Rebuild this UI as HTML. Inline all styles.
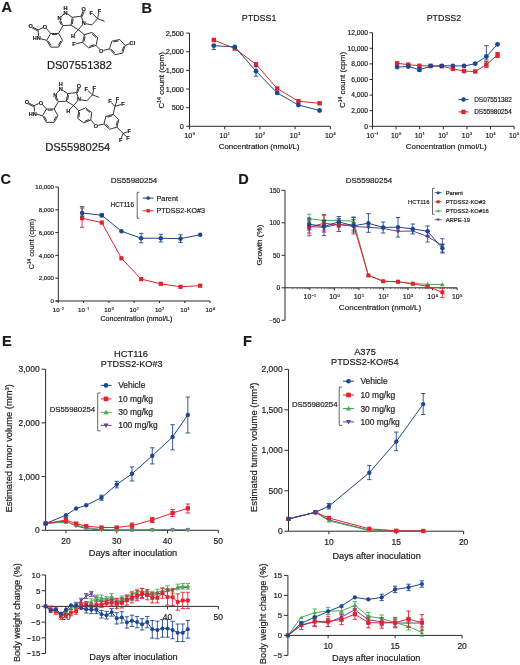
<!DOCTYPE html>
<html><head><meta charset="utf-8"><title>Figure</title>
<style>
html,body{margin:0;padding:0;background:#fff;}
body{width:520px;height:665px;overflow:hidden;}
svg{display:block;}
text{font-family:"Liberation Sans",Arial,sans-serif;fill:#1a1a1a;stroke:#1a1a1a;stroke-width:0.18px;}
</style></head><body>
<svg width="520" height="665" viewBox="0 0 520 665">
<rect width="520" height="665" fill="#fff"/>
<text x="1.5" y="12.4" font-size="14.5" font-weight="bold">A</text>
<text x="141.6" y="12.5" font-size="14.5" font-weight="bold">B</text>
<text x="0.6" y="183.7" font-size="14.5" font-weight="bold">C</text>
<text x="238.2" y="183.8" font-size="14.5" font-weight="bold">D</text>
<text x="2" y="346.4" font-size="14.5" font-weight="bold">E</text>
<text x="242.9" y="346.3" font-size="14.5" font-weight="bold">F</text>
<line x1="46.7" y1="40.3" x2="50.65" y2="33.46" stroke="#2a2a2a" stroke-width="0.95"/>
<line x1="50.65" y1="33.46" x2="58.55" y2="33.46" stroke="#2a2a2a" stroke-width="0.95"/>
<line x1="51.99" y1="34.56" x2="57.21" y2="34.56" stroke="#2a2a2a" stroke-width="0.95"/>
<line x1="58.55" y1="33.46" x2="62.5" y2="40.3" stroke="#2a2a2a" stroke-width="0.95"/>
<line x1="62.5" y1="40.3" x2="58.55" y2="47.14" stroke="#2a2a2a" stroke-width="0.95"/>
<line x1="60.88" y1="40.91" x2="58.27" y2="45.43" stroke="#2a2a2a" stroke-width="0.95"/>
<line x1="58.55" y1="47.14" x2="50.65" y2="47.14" stroke="#2a2a2a" stroke-width="0.95"/>
<line x1="50.65" y1="47.14" x2="46.7" y2="40.3" stroke="#2a2a2a" stroke-width="0.95"/>
<line x1="50.93" y1="45.43" x2="48.32" y2="40.91" stroke="#2a2a2a" stroke-width="0.95"/>
<line x1="38.1" y1="29.9" x2="32.75" y2="27.12" stroke="#2a2a2a" stroke-width="0.95"/>
<line x1="37.59" y1="30.88" x2="32.24" y2="28.09" stroke="#2a2a2a" stroke-width="0.95"/>
<line x1="38.1" y1="29.9" x2="43.02" y2="27.55" stroke="#2a2a2a" stroke-width="0.95"/>
<line x1="46.4" y1="28.3" x2="50.65" y2="33.46" stroke="#2a2a2a" stroke-width="0.95"/>
<line x1="38.1" y1="29.9" x2="38.62" y2="36.01" stroke="#2a2a2a" stroke-width="0.95"/>
<line x1="40.93" y1="38.77" x2="46.7" y2="40.3" stroke="#2a2a2a" stroke-width="0.95"/>
<text x="30.8" y="28.12" font-size="5.6" text-anchor="middle" font-weight="bold" fill="#222">O</text>
<text x="45" y="28.62" font-size="5.6" text-anchor="middle" font-weight="bold" fill="#222">O</text>
<text x="40.8" y="40.22" font-size="5.6" text-anchor="end" font-weight="bold" fill="#222">HN</text>
<line x1="58.55" y1="33.46" x2="62.9" y2="25.6" stroke="#2a2a2a" stroke-width="0.95"/>
<line x1="62.9" y1="25.6" x2="60.51" y2="20.3" stroke="#2a2a2a" stroke-width="0.95"/>
<line x1="61.3" y1="24.74" x2="59.5" y2="20.76" stroke="#2a2a2a" stroke-width="0.95"/>
<line x1="61.16" y1="16.74" x2="63.84" y2="14.06" stroke="#2a2a2a" stroke-width="0.95"/>
<line x1="67.21" y1="13.76" x2="72.3" y2="17.3" stroke="#2a2a2a" stroke-width="0.95"/>
<line x1="72.3" y1="17.3" x2="71" y2="25.2" stroke="#2a2a2a" stroke-width="0.95"/>
<line x1="73.15" y1="18.9" x2="72.32" y2="23.96" stroke="#2a2a2a" stroke-width="0.95"/>
<line x1="71" y1="25.2" x2="62.9" y2="25.6" stroke="#2a2a2a" stroke-width="0.95"/>
<text x="59.6" y="20.32" font-size="5.6" text-anchor="middle" font-weight="bold" fill="#222">N</text>
<text x="65.4" y="14.52" font-size="5.6" text-anchor="middle" font-weight="bold" fill="#222">N</text>
<text x="65.4" y="9.72" font-size="5.6" text-anchor="middle" font-weight="bold" fill="#222">H</text>
<line x1="72.3" y1="17.3" x2="81.2" y2="16.2" stroke="#2a2a2a" stroke-width="0.95"/>
<line x1="81.2" y1="16.2" x2="83.05" y2="11.07" stroke="#2a2a2a" stroke-width="0.95"/>
<line x1="82.23" y1="16.57" x2="84.09" y2="11.44" stroke="#2a2a2a" stroke-width="0.95"/>
<line x1="81.2" y1="16.2" x2="83.04" y2="21.23" stroke="#2a2a2a" stroke-width="0.95"/>
<line x1="82.37" y1="24.97" x2="78.3" y2="29.7" stroke="#2a2a2a" stroke-width="0.95"/>
<line x1="78.3" y1="29.7" x2="71" y2="25.2" stroke="#2a2a2a" stroke-width="0.95"/>
<text x="83.8" y="11.02" font-size="5.6" text-anchor="middle" font-weight="bold" fill="#222">O</text>
<text x="83.8" y="25.32" font-size="5.6" text-anchor="middle" font-weight="bold" fill="#222">N</text>
<line x1="78.3" y1="29.7" x2="74.39" y2="33.98" stroke="#2a2a2a" stroke-width="0.95"/>
<text x="72.9" y="37.62" font-size="5.6" text-anchor="middle" font-weight="bold" fill="#222">H</text>
<line x1="85.96" y1="23.73" x2="91.8" y2="24.9" stroke="#2a2a2a" stroke-width="0.95"/>
<line x1="91.8" y1="24.9" x2="97.6" y2="18.6" stroke="#2a2a2a" stroke-width="0.95"/>
<line x1="97.6" y1="18.6" x2="92.89" y2="14.12" stroke="#2a2a2a" stroke-width="0.95"/>
<line x1="97.6" y1="18.6" x2="98.89" y2="13.14" stroke="#2a2a2a" stroke-width="0.95"/>
<line x1="97.6" y1="18.6" x2="104.6" y2="21.3" stroke="#2a2a2a" stroke-width="0.95"/>
<text x="91.3" y="14.62" font-size="5.6" text-anchor="middle" font-weight="bold" fill="#222">F</text>
<text x="99.4" y="13.02" font-size="5.6" text-anchor="middle" font-weight="bold" fill="#222">F</text>
<line x1="91.88" y1="32.38" x2="97.73" y2="37.7" stroke="#2a2a2a" stroke-width="0.95"/>
<line x1="92.14" y1="34.1" x2="95.99" y2="37.61" stroke="#2a2a2a" stroke-width="0.95"/>
<line x1="97.73" y1="37.7" x2="96.04" y2="45.42" stroke="#2a2a2a" stroke-width="0.95"/>
<line x1="96.04" y1="45.42" x2="88.52" y2="47.82" stroke="#2a2a2a" stroke-width="0.95"/>
<line x1="94.43" y1="44.78" x2="89.46" y2="46.36" stroke="#2a2a2a" stroke-width="0.95"/>
<line x1="88.52" y1="47.82" x2="82.67" y2="42.5" stroke="#2a2a2a" stroke-width="0.95"/>
<line x1="82.67" y1="42.5" x2="84.36" y2="34.78" stroke="#2a2a2a" stroke-width="0.95"/>
<line x1="84.03" y1="41.42" x2="85.15" y2="36.33" stroke="#2a2a2a" stroke-width="0.95"/>
<line x1="84.36" y1="34.78" x2="91.88" y2="32.38" stroke="#2a2a2a" stroke-width="0.95"/>
<line x1="78.3" y1="29.7" x2="84.36" y2="34.78" stroke="#2a2a2a" stroke-width="0.95"/>
<line x1="82.67" y1="42.5" x2="76.18" y2="43.47" stroke="#2a2a2a" stroke-width="0.95"/>
<text x="74" y="45.82" font-size="5.6" text-anchor="middle" font-weight="bold" fill="#222">F</text>
<line x1="96.04" y1="45.42" x2="99.71" y2="49.38" stroke="#2a2a2a" stroke-width="0.95"/>
<text x="101.2" y="53.02" font-size="5.6" text-anchor="middle" font-weight="bold" fill="#222">O</text>
<line x1="109.49" y1="48.83" x2="111.9" y2="41.2" stroke="#2a2a2a" stroke-width="0.95"/>
<line x1="111.9" y1="41.2" x2="119.71" y2="39.47" stroke="#2a2a2a" stroke-width="0.95"/>
<line x1="113.46" y1="41.98" x2="118.62" y2="40.84" stroke="#2a2a2a" stroke-width="0.95"/>
<line x1="119.71" y1="39.47" x2="125.11" y2="45.37" stroke="#2a2a2a" stroke-width="0.95"/>
<line x1="125.11" y1="45.37" x2="122.7" y2="53" stroke="#2a2a2a" stroke-width="0.95"/>
<line x1="123.65" y1="46.33" x2="122.06" y2="51.37" stroke="#2a2a2a" stroke-width="0.95"/>
<line x1="122.7" y1="53" x2="114.89" y2="54.73" stroke="#2a2a2a" stroke-width="0.95"/>
<line x1="114.89" y1="54.73" x2="109.49" y2="48.83" stroke="#2a2a2a" stroke-width="0.95"/>
<line x1="114.79" y1="52.98" x2="111.22" y2="49.09" stroke="#2a2a2a" stroke-width="0.95"/>
<line x1="103.33" y1="50.44" x2="109.49" y2="48.83" stroke="#2a2a2a" stroke-width="0.95"/>
<line x1="125.11" y1="45.37" x2="129.95" y2="43.66" stroke="#2a2a2a" stroke-width="0.95"/>
<text x="132.4" y="44.82" font-size="5.6" text-anchor="middle" font-weight="bold" fill="#222">Cl</text>
<text x="79.4" y="68.6" font-size="11.15" text-anchor="middle">DS07551382</text>
<line x1="42.57" y1="115.69" x2="46.42" y2="109.02" stroke="#2a2a2a" stroke-width="0.95"/>
<line x1="46.42" y1="109.02" x2="54.12" y2="109.02" stroke="#2a2a2a" stroke-width="0.95"/>
<line x1="47.73" y1="110.12" x2="52.81" y2="110.12" stroke="#2a2a2a" stroke-width="0.95"/>
<line x1="54.12" y1="109.02" x2="57.97" y2="115.69" stroke="#2a2a2a" stroke-width="0.95"/>
<line x1="57.97" y1="115.69" x2="54.12" y2="122.36" stroke="#2a2a2a" stroke-width="0.95"/>
<line x1="56.36" y1="116.27" x2="53.82" y2="120.67" stroke="#2a2a2a" stroke-width="0.95"/>
<line x1="54.12" y1="122.36" x2="46.42" y2="122.36" stroke="#2a2a2a" stroke-width="0.95"/>
<line x1="46.42" y1="122.36" x2="42.57" y2="115.69" stroke="#2a2a2a" stroke-width="0.95"/>
<line x1="46.72" y1="120.67" x2="44.17" y2="116.27" stroke="#2a2a2a" stroke-width="0.95"/>
<line x1="34.06" y1="105.7" x2="28.86" y2="103.05" stroke="#2a2a2a" stroke-width="0.95"/>
<line x1="33.57" y1="106.68" x2="28.36" y2="104.03" stroke="#2a2a2a" stroke-width="0.95"/>
<line x1="34.06" y1="105.7" x2="38.85" y2="103.47" stroke="#2a2a2a" stroke-width="0.95"/>
<line x1="42.27" y1="104.2" x2="46.42" y2="109.02" stroke="#2a2a2a" stroke-width="0.95"/>
<line x1="34.06" y1="105.7" x2="34.56" y2="111.48" stroke="#2a2a2a" stroke-width="0.95"/>
<line x1="36.88" y1="114.22" x2="42.57" y2="115.69" stroke="#2a2a2a" stroke-width="0.95"/>
<text x="26.9" y="104.07" font-size="5.6" text-anchor="middle" font-weight="bold" fill="#222">O</text>
<text x="40.84" y="104.55" font-size="5.6" text-anchor="middle" font-weight="bold" fill="#222">O</text>
<text x="36.75" y="115.69" font-size="5.6" text-anchor="end" font-weight="bold" fill="#222">HN</text>
<line x1="54.12" y1="109.02" x2="58.42" y2="101.58" stroke="#2a2a2a" stroke-width="0.95"/>
<line x1="58.42" y1="101.58" x2="56.1" y2="96.56" stroke="#2a2a2a" stroke-width="0.95"/>
<line x1="56.84" y1="100.78" x2="55.1" y2="97.03" stroke="#2a2a2a" stroke-width="0.95"/>
<line x1="56.75" y1="93.03" x2="59.3" y2="90.54" stroke="#2a2a2a" stroke-width="0.95"/>
<line x1="62.69" y1="90.24" x2="67.65" y2="93.61" stroke="#2a2a2a" stroke-width="0.95"/>
<line x1="67.65" y1="93.61" x2="66.37" y2="101.19" stroke="#2a2a2a" stroke-width="0.95"/>
<line x1="68.5" y1="95.16" x2="67.69" y2="100.01" stroke="#2a2a2a" stroke-width="0.95"/>
<line x1="66.37" y1="101.19" x2="58.42" y2="101.58" stroke="#2a2a2a" stroke-width="0.95"/>
<text x="55.18" y="96.58" font-size="5.6" text-anchor="middle" font-weight="bold" fill="#222">N</text>
<text x="60.87" y="91.02" font-size="5.6" text-anchor="middle" font-weight="bold" fill="#222">N</text>
<text x="60.87" y="86.22" font-size="5.6" text-anchor="middle" font-weight="bold" fill="#222">H</text>
<line x1="67.65" y1="93.61" x2="76.39" y2="92.55" stroke="#2a2a2a" stroke-width="0.95"/>
<line x1="76.39" y1="92.55" x2="78.18" y2="87.7" stroke="#2a2a2a" stroke-width="0.95"/>
<line x1="77.42" y1="92.93" x2="79.21" y2="88.08" stroke="#2a2a2a" stroke-width="0.95"/>
<line x1="76.39" y1="92.55" x2="78.17" y2="97.31" stroke="#2a2a2a" stroke-width="0.95"/>
<line x1="77.49" y1="101.02" x2="73.54" y2="105.51" stroke="#2a2a2a" stroke-width="0.95"/>
<line x1="73.54" y1="105.51" x2="66.37" y2="101.19" stroke="#2a2a2a" stroke-width="0.95"/>
<text x="78.94" y="87.66" font-size="5.6" text-anchor="middle" font-weight="bold" fill="#222">O</text>
<text x="78.94" y="101.38" font-size="5.6" text-anchor="middle" font-weight="bold" fill="#222">N</text>
<line x1="73.54" y1="105.51" x2="69.74" y2="109.57" stroke="#2a2a2a" stroke-width="0.95"/>
<text x="68.24" y="113.19" font-size="5.6" text-anchor="middle" font-weight="bold" fill="#222">H</text>
<line x1="81.1" y1="99.79" x2="86.8" y2="100.9" stroke="#2a2a2a" stroke-width="0.95"/>
<line x1="86.8" y1="100.9" x2="92.49" y2="94.86" stroke="#2a2a2a" stroke-width="0.95"/>
<line x1="92.49" y1="94.86" x2="87.92" y2="90.6" stroke="#2a2a2a" stroke-width="0.95"/>
<line x1="92.49" y1="94.86" x2="93.74" y2="89.7" stroke="#2a2a2a" stroke-width="0.95"/>
<line x1="92.49" y1="94.86" x2="99.37" y2="97.45" stroke="#2a2a2a" stroke-width="0.95"/>
<text x="86.31" y="91.11" font-size="5.6" text-anchor="middle" font-weight="bold" fill="#222">F</text>
<text x="94.26" y="89.58" font-size="5.6" text-anchor="middle" font-weight="bold" fill="#222">F</text>
<line x1="85.63" y1="107.86" x2="91.7" y2="112.43" stroke="#2a2a2a" stroke-width="0.95"/>
<line x1="86" y1="109.51" x2="90" y2="112.53" stroke="#2a2a2a" stroke-width="0.95"/>
<line x1="91.7" y1="112.43" x2="90.77" y2="119.97" stroke="#2a2a2a" stroke-width="0.95"/>
<line x1="90.77" y1="119.97" x2="83.77" y2="122.94" stroke="#2a2a2a" stroke-width="0.95"/>
<line x1="89.15" y1="119.47" x2="84.53" y2="121.43" stroke="#2a2a2a" stroke-width="0.95"/>
<line x1="83.77" y1="122.94" x2="77.7" y2="118.37" stroke="#2a2a2a" stroke-width="0.95"/>
<line x1="77.7" y1="118.37" x2="78.63" y2="110.83" stroke="#2a2a2a" stroke-width="0.95"/>
<line x1="78.95" y1="117.22" x2="79.56" y2="112.24" stroke="#2a2a2a" stroke-width="0.95"/>
<line x1="78.63" y1="110.83" x2="85.63" y2="107.86" stroke="#2a2a2a" stroke-width="0.95"/>
<line x1="73.54" y1="105.51" x2="78.63" y2="110.83" stroke="#2a2a2a" stroke-width="0.95"/>
<line x1="90.77" y1="119.97" x2="94.53" y2="124.16" stroke="#2a2a2a" stroke-width="0.95"/>
<text x="96" y="127.82" font-size="5.6" text-anchor="middle" font-weight="bold" fill="#222">O</text>
<line x1="104.02" y1="124" x2="105.81" y2="116.51" stroke="#2a2a2a" stroke-width="0.95"/>
<line x1="105.81" y1="116.51" x2="113.18" y2="114.31" stroke="#2a2a2a" stroke-width="0.95"/>
<line x1="107.37" y1="117.19" x2="112.24" y2="115.74" stroke="#2a2a2a" stroke-width="0.95"/>
<line x1="113.18" y1="114.31" x2="118.78" y2="119.6" stroke="#2a2a2a" stroke-width="0.95"/>
<line x1="118.78" y1="119.6" x2="116.99" y2="127.09" stroke="#2a2a2a" stroke-width="0.95"/>
<line x1="117.41" y1="120.62" x2="116.23" y2="125.56" stroke="#2a2a2a" stroke-width="0.95"/>
<line x1="116.99" y1="127.09" x2="109.62" y2="129.29" stroke="#2a2a2a" stroke-width="0.95"/>
<line x1="109.62" y1="129.29" x2="104.02" y2="124" stroke="#2a2a2a" stroke-width="0.95"/>
<line x1="109.42" y1="127.59" x2="105.73" y2="124.1" stroke="#2a2a2a" stroke-width="0.95"/>
<line x1="98.15" y1="125.32" x2="104.02" y2="124" stroke="#2a2a2a" stroke-width="0.95"/>
<line x1="113.18" y1="114.31" x2="115" y2="106.4" stroke="#2a2a2a" stroke-width="0.95"/>
<line x1="115" y1="106.4" x2="111.27" y2="102.45" stroke="#2a2a2a" stroke-width="0.95"/>
<text x="109.9" y="103.02" font-size="5.6" text-anchor="middle" font-weight="bold" fill="#222">F</text>
<line x1="115" y1="106.4" x2="116.8" y2="100.71" stroke="#2a2a2a" stroke-width="0.95"/>
<text x="117.4" y="100.82" font-size="5.6" text-anchor="middle" font-weight="bold" fill="#222">F</text>
<line x1="115" y1="106.4" x2="121.09" y2="104.5" stroke="#2a2a2a" stroke-width="0.95"/>
<text x="123" y="105.92" font-size="5.6" text-anchor="middle" font-weight="bold" fill="#222">F</text>
<line x1="116.99" y1="127.09" x2="123.1" y2="133.4" stroke="#2a2a2a" stroke-width="0.95"/>
<line x1="123.1" y1="133.4" x2="127.31" y2="131.95" stroke="#2a2a2a" stroke-width="0.95"/>
<text x="129.2" y="133.32" font-size="5.6" text-anchor="middle" font-weight="bold" fill="#222">F</text>
<line x1="123.1" y1="133.4" x2="126.46" y2="136.62" stroke="#2a2a2a" stroke-width="0.95"/>
<text x="127.9" y="140.02" font-size="5.6" text-anchor="middle" font-weight="bold" fill="#222">F</text>
<line x1="123.1" y1="133.4" x2="121.34" y2="137.84" stroke="#2a2a2a" stroke-width="0.95"/>
<text x="120.6" y="141.72" font-size="5.6" text-anchor="middle" font-weight="bold" fill="#222">F</text>
<text x="77.8" y="150.7" font-size="11.15" text-anchor="middle">DS55980254</text>
<line x1="189.5" y1="33.1" x2="189.5" y2="126.3" stroke="#2b2b2b" stroke-width="1"/>
<line x1="186.2" y1="126.3" x2="189.5" y2="126.3" stroke="#2b2b2b" stroke-width="1"/>
<text x="183.9" y="128.85" font-size="7.3" text-anchor="end">0</text>
<line x1="186.2" y1="107.66" x2="189.5" y2="107.66" stroke="#2b2b2b" stroke-width="1"/>
<text x="183.9" y="110.22" font-size="7.3" text-anchor="end">500</text>
<line x1="186.2" y1="89.02" x2="189.5" y2="89.02" stroke="#2b2b2b" stroke-width="1"/>
<text x="183.9" y="91.57" font-size="7.3" text-anchor="end">1,000</text>
<line x1="186.2" y1="70.38" x2="189.5" y2="70.38" stroke="#2b2b2b" stroke-width="1"/>
<text x="183.9" y="72.94" font-size="7.3" text-anchor="end">1,500</text>
<line x1="186.2" y1="51.74" x2="189.5" y2="51.74" stroke="#2b2b2b" stroke-width="1"/>
<text x="183.9" y="54.29" font-size="7.3" text-anchor="end">2,000</text>
<line x1="186.2" y1="33.1" x2="189.5" y2="33.1" stroke="#2b2b2b" stroke-width="1"/>
<text x="183.9" y="35.65" font-size="7.3" text-anchor="end">2,500</text>
<line x1="189.5" y1="126.3" x2="330.3" y2="126.3" stroke="#2b2b2b" stroke-width="1"/>
<line x1="189.5" y1="126.3" x2="189.5" y2="129.3" stroke="#2b2b2b" stroke-width="1"/>
<text x="189.5" y="137.6" font-size="7.1" text-anchor="middle">10<tspan font-size="3.76" dx="0.5" dy="-2.34">0</tspan></text>
<line x1="224.7" y1="126.3" x2="224.7" y2="129.3" stroke="#2b2b2b" stroke-width="1"/>
<text x="224.7" y="137.6" font-size="7.1" text-anchor="middle">10<tspan font-size="3.76" dx="0.5" dy="-2.34">1</tspan></text>
<line x1="259.9" y1="126.3" x2="259.9" y2="129.3" stroke="#2b2b2b" stroke-width="1"/>
<text x="259.9" y="137.6" font-size="7.1" text-anchor="middle">10<tspan font-size="3.76" dx="0.5" dy="-2.34">2</tspan></text>
<line x1="295.1" y1="126.3" x2="295.1" y2="129.3" stroke="#2b2b2b" stroke-width="1"/>
<text x="295.1" y="137.6" font-size="7.1" text-anchor="middle">10<tspan font-size="3.76" dx="0.5" dy="-2.34">3</tspan></text>
<line x1="330.3" y1="126.3" x2="330.3" y2="129.3" stroke="#2b2b2b" stroke-width="1"/>
<text x="330.3" y="137.6" font-size="7.1" text-anchor="middle">10<tspan font-size="3.76" dx="0.5" dy="-2.34">4</tspan></text>
<text x="259.1" y="21.2" font-size="8.9" text-anchor="middle">PTDSS1</text>
<text x="259.1" y="148.9" font-size="7.95" text-anchor="middle">Concentration (nmol/L)</text>
<text x="164.2" y="80.3" font-size="8.1" text-anchor="middle" transform="rotate(-90 164.2 80.3)">C<tspan font-size="5" dy="-3">14</tspan><tspan dy="3">&#160;count (cpm)</tspan></text>
<polyline points="213.8,40 234.8,48.5 256,64.3 277.2,88.5 298.4,101.2 319.6,103.3" fill="none" stroke="#e0232f" stroke-width="1" stroke-linejoin="round"/>
<rect x="211.6" y="37.8" width="4.4" height="4.4" fill="#e0232f"/>
<rect x="232.6" y="46.3" width="4.4" height="4.4" fill="#e0232f"/>
<rect x="253.8" y="62.1" width="4.4" height="4.4" fill="#e0232f"/>
<rect x="275" y="86.3" width="4.4" height="4.4" fill="#e0232f"/>
<rect x="296.2" y="99" width="4.4" height="4.4" fill="#e0232f"/>
<rect x="317.4" y="101.1" width="4.4" height="4.4" fill="#e0232f"/>
<polyline points="213.8,45.7 234.8,46.9 256,71.2 277.2,92.9 298.4,105 319.6,110.5" fill="none" stroke="#1c4790" stroke-width="1" stroke-linejoin="round"/>
<line x1="213.8" y1="44.5" x2="213.8" y2="49.4" stroke="#1c4790" stroke-width="0.9"/>
<line x1="211.6" y1="44.5" x2="216" y2="44.5" stroke="#1c4790" stroke-width="0.9"/>
<line x1="211.6" y1="49.4" x2="216" y2="49.4" stroke="#1c4790" stroke-width="0.9"/>
<line x1="256" y1="66.5" x2="256" y2="76.2" stroke="#1c4790" stroke-width="0.9"/>
<line x1="253.8" y1="66.5" x2="258.2" y2="66.5" stroke="#1c4790" stroke-width="0.9"/>
<line x1="253.8" y1="76.2" x2="258.2" y2="76.2" stroke="#1c4790" stroke-width="0.9"/>
<circle cx="213.8" cy="45.7" r="2.4" fill="#1c4790"/>
<circle cx="234.8" cy="46.9" r="2.4" fill="#1c4790"/>
<circle cx="256" cy="71.2" r="2.4" fill="#1c4790"/>
<circle cx="277.2" cy="92.9" r="2.4" fill="#1c4790"/>
<circle cx="298.4" cy="105" r="2.4" fill="#1c4790"/>
<circle cx="319.6" cy="110.5" r="2.4" fill="#1c4790"/>
<line x1="372.5" y1="32.7" x2="372.5" y2="126.3" stroke="#2b2b2b" stroke-width="1"/>
<line x1="369.5" y1="126.3" x2="372.5" y2="126.3" stroke="#2b2b2b" stroke-width="1"/>
<text x="368" y="128.65" font-size="6.7" text-anchor="end">0</text>
<line x1="369.5" y1="110.7" x2="372.5" y2="110.7" stroke="#2b2b2b" stroke-width="1"/>
<text x="368" y="113.05" font-size="6.7" text-anchor="end">2,000</text>
<line x1="369.5" y1="95.1" x2="372.5" y2="95.1" stroke="#2b2b2b" stroke-width="1"/>
<text x="368" y="97.44" font-size="6.7" text-anchor="end">4,000</text>
<line x1="369.5" y1="79.5" x2="372.5" y2="79.5" stroke="#2b2b2b" stroke-width="1"/>
<text x="368" y="81.84" font-size="6.7" text-anchor="end">6,000</text>
<line x1="369.5" y1="63.9" x2="372.5" y2="63.9" stroke="#2b2b2b" stroke-width="1"/>
<text x="368" y="66.25" font-size="6.7" text-anchor="end">8,000</text>
<line x1="369.5" y1="48.3" x2="372.5" y2="48.3" stroke="#2b2b2b" stroke-width="1"/>
<text x="368" y="50.64" font-size="6.7" text-anchor="end">10,000</text>
<line x1="369.5" y1="32.7" x2="372.5" y2="32.7" stroke="#2b2b2b" stroke-width="1"/>
<text x="368" y="35.05" font-size="6.7" text-anchor="end">12,000</text>
<line x1="372.5" y1="126.3" x2="514.1" y2="126.3" stroke="#2b2b2b" stroke-width="1"/>
<line x1="372.5" y1="126.3" x2="372.5" y2="129.3" stroke="#2b2b2b" stroke-width="1"/>
<text x="372.5" y="137.6" font-size="6.8" text-anchor="middle">10<tspan font-size="3.6" dx="0.5" dy="-2.24">−1</tspan></text>
<line x1="396.1" y1="126.3" x2="396.1" y2="129.3" stroke="#2b2b2b" stroke-width="1"/>
<text x="396.1" y="137.6" font-size="6.8" text-anchor="middle">10<tspan font-size="3.6" dx="0.5" dy="-2.24">0</tspan></text>
<line x1="419.7" y1="126.3" x2="419.7" y2="129.3" stroke="#2b2b2b" stroke-width="1"/>
<text x="419.7" y="137.6" font-size="6.8" text-anchor="middle">10<tspan font-size="3.6" dx="0.5" dy="-2.24">1</tspan></text>
<line x1="443.3" y1="126.3" x2="443.3" y2="129.3" stroke="#2b2b2b" stroke-width="1"/>
<text x="443.3" y="137.6" font-size="6.8" text-anchor="middle">10<tspan font-size="3.6" dx="0.5" dy="-2.24">2</tspan></text>
<line x1="466.9" y1="126.3" x2="466.9" y2="129.3" stroke="#2b2b2b" stroke-width="1"/>
<text x="466.9" y="137.6" font-size="6.8" text-anchor="middle">10<tspan font-size="3.6" dx="0.5" dy="-2.24">3</tspan></text>
<line x1="490.5" y1="126.3" x2="490.5" y2="129.3" stroke="#2b2b2b" stroke-width="1"/>
<text x="490.5" y="137.6" font-size="6.8" text-anchor="middle">10<tspan font-size="3.6" dx="0.5" dy="-2.24">4</tspan></text>
<line x1="514.1" y1="126.3" x2="514.1" y2="129.3" stroke="#2b2b2b" stroke-width="1"/>
<text x="514.1" y="137.6" font-size="6.8" text-anchor="middle">10<tspan font-size="3.6" dx="0.5" dy="-2.24">5</tspan></text>
<text x="443.9" y="21.3" font-size="8.9" text-anchor="middle">PTDSS2</text>
<text x="446.2" y="149.2" font-size="7.95" text-anchor="middle">Concentration (nmol/L)</text>
<text x="345.1" y="79.9" font-size="8.1" text-anchor="middle" transform="rotate(-90 345.1 79.9)">C<tspan font-size="5" dy="-3">14</tspan><tspan dy="3">&#160;count (cpm)</tspan></text>
<polyline points="397.1,63.3 408.26,64.6 419.42,65.8 430.58,65.8 441.74,66.2 452.9,68.8 464.06,71.1 475.22,71.5 486.38,64.6 497.54,54.9" fill="none" stroke="#e0232f" stroke-width="1" stroke-linejoin="round"/>
<line x1="486.38" y1="61.5" x2="486.38" y2="67.5" stroke="#e0232f" stroke-width="0.9"/>
<line x1="484.18" y1="61.5" x2="488.58" y2="61.5" stroke="#e0232f" stroke-width="0.9"/>
<line x1="484.18" y1="67.5" x2="488.58" y2="67.5" stroke="#e0232f" stroke-width="0.9"/>
<line x1="497.54" y1="52.5" x2="497.54" y2="57.5" stroke="#e0232f" stroke-width="0.9"/>
<line x1="495.34" y1="52.5" x2="499.74" y2="52.5" stroke="#e0232f" stroke-width="0.9"/>
<line x1="495.34" y1="57.5" x2="499.74" y2="57.5" stroke="#e0232f" stroke-width="0.9"/>
<rect x="394.9" y="61.1" width="4.4" height="4.4" fill="#e0232f"/>
<rect x="406.06" y="62.4" width="4.4" height="4.4" fill="#e0232f"/>
<rect x="417.22" y="63.6" width="4.4" height="4.4" fill="#e0232f"/>
<rect x="428.38" y="63.6" width="4.4" height="4.4" fill="#e0232f"/>
<rect x="439.54" y="64" width="4.4" height="4.4" fill="#e0232f"/>
<rect x="450.7" y="66.6" width="4.4" height="4.4" fill="#e0232f"/>
<rect x="461.86" y="68.9" width="4.4" height="4.4" fill="#e0232f"/>
<rect x="473.02" y="69.3" width="4.4" height="4.4" fill="#e0232f"/>
<rect x="484.18" y="62.4" width="4.4" height="4.4" fill="#e0232f"/>
<rect x="495.34" y="52.7" width="4.4" height="4.4" fill="#e0232f"/>
<polyline points="397.1,67.1 408.26,66.5 419.42,69.7 430.58,66.2 441.74,65.8 452.9,65.8 464.06,66 475.22,63.7 486.38,56.5 497.54,44.3" fill="none" stroke="#1c4790" stroke-width="1" stroke-linejoin="round"/>
<line x1="486.38" y1="45.7" x2="486.38" y2="60" stroke="#1c4790" stroke-width="0.9"/>
<line x1="484.18" y1="45.7" x2="488.58" y2="45.7" stroke="#1c4790" stroke-width="0.9"/>
<line x1="484.18" y1="60" x2="488.58" y2="60" stroke="#1c4790" stroke-width="0.9"/>
<line x1="419.42" y1="67.8" x2="419.42" y2="71.6" stroke="#1c4790" stroke-width="0.9"/>
<line x1="417.22" y1="67.8" x2="421.62" y2="67.8" stroke="#1c4790" stroke-width="0.9"/>
<line x1="417.22" y1="71.6" x2="421.62" y2="71.6" stroke="#1c4790" stroke-width="0.9"/>
<circle cx="397.1" cy="67.1" r="2.4" fill="#1c4790"/>
<circle cx="408.26" cy="66.5" r="2.4" fill="#1c4790"/>
<circle cx="419.42" cy="69.7" r="2.4" fill="#1c4790"/>
<circle cx="430.58" cy="66.2" r="2.4" fill="#1c4790"/>
<circle cx="441.74" cy="65.8" r="2.4" fill="#1c4790"/>
<circle cx="452.9" cy="65.8" r="2.4" fill="#1c4790"/>
<circle cx="464.06" cy="66" r="2.4" fill="#1c4790"/>
<circle cx="475.22" cy="63.7" r="2.4" fill="#1c4790"/>
<circle cx="486.38" cy="56.5" r="2.4" fill="#1c4790"/>
<circle cx="497.54" cy="44.3" r="2.4" fill="#1c4790"/>
<line x1="458.5" y1="99.6" x2="468.5" y2="99.6" stroke="#1c4790" stroke-width="1"/>
<circle cx="463.5" cy="99.6" r="2.25" fill="#1c4790"/>
<text x="474.2" y="101.9" font-size="6.45">DS07551382</text>
<line x1="458.5" y1="111.9" x2="468.5" y2="111.9" stroke="#e0232f" stroke-width="1"/>
<rect x="461.3" y="109.7" width="4.4" height="4.4" fill="#e0232f"/>
<text x="474.2" y="114.2" font-size="6.45">DS55980254</text>
<line x1="58.3" y1="187" x2="58.3" y2="301" stroke="#2b2b2b" stroke-width="1"/>
<line x1="55.3" y1="301" x2="58.3" y2="301" stroke="#2b2b2b" stroke-width="1"/>
<text x="54" y="303.13" font-size="6.1" text-anchor="end">0</text>
<line x1="55.3" y1="278.2" x2="58.3" y2="278.2" stroke="#2b2b2b" stroke-width="1"/>
<text x="54" y="280.33" font-size="6.1" text-anchor="end">2,000</text>
<line x1="55.3" y1="255.4" x2="58.3" y2="255.4" stroke="#2b2b2b" stroke-width="1"/>
<text x="54" y="257.54" font-size="6.1" text-anchor="end">4,000</text>
<line x1="55.3" y1="232.6" x2="58.3" y2="232.6" stroke="#2b2b2b" stroke-width="1"/>
<text x="54" y="234.73" font-size="6.1" text-anchor="end">6,000</text>
<line x1="55.3" y1="209.8" x2="58.3" y2="209.8" stroke="#2b2b2b" stroke-width="1"/>
<text x="54" y="211.94" font-size="6.1" text-anchor="end">8,000</text>
<line x1="55.3" y1="187" x2="58.3" y2="187" stroke="#2b2b2b" stroke-width="1"/>
<text x="54" y="189.13" font-size="6.1" text-anchor="end">10,000</text>
<line x1="55.8" y1="301" x2="210.1" y2="301" stroke="#2b2b2b" stroke-width="1"/>
<line x1="58.3" y1="301" x2="58.3" y2="303" stroke="#2b2b2b" stroke-width="1"/>
<text x="58.3" y="311.6" font-size="6.2" text-anchor="middle">10<tspan font-size="3.29" dx="0.5" dy="-2.05">−2</tspan></text>
<line x1="83.6" y1="301" x2="83.6" y2="303" stroke="#2b2b2b" stroke-width="1"/>
<text x="83.6" y="311.6" font-size="6.2" text-anchor="middle">10<tspan font-size="3.29" dx="0.5" dy="-2.05">−1</tspan></text>
<line x1="108.9" y1="301" x2="108.9" y2="303" stroke="#2b2b2b" stroke-width="1"/>
<text x="108.9" y="311.6" font-size="6.2" text-anchor="middle">10<tspan font-size="3.29" dx="0.5" dy="-2.05">0</tspan></text>
<line x1="134.2" y1="301" x2="134.2" y2="303" stroke="#2b2b2b" stroke-width="1"/>
<text x="134.2" y="311.6" font-size="6.2" text-anchor="middle">10<tspan font-size="3.29" dx="0.5" dy="-2.05">1</tspan></text>
<line x1="159.5" y1="301" x2="159.5" y2="303" stroke="#2b2b2b" stroke-width="1"/>
<text x="159.5" y="311.6" font-size="6.2" text-anchor="middle">10<tspan font-size="3.29" dx="0.5" dy="-2.05">2</tspan></text>
<line x1="184.8" y1="301" x2="184.8" y2="303" stroke="#2b2b2b" stroke-width="1"/>
<text x="184.8" y="311.6" font-size="6.2" text-anchor="middle">10<tspan font-size="3.29" dx="0.5" dy="-2.05">3</tspan></text>
<line x1="210.1" y1="301" x2="210.1" y2="303" stroke="#2b2b2b" stroke-width="1"/>
<text x="210.1" y="311.6" font-size="6.2" text-anchor="middle">10<tspan font-size="3.29" dx="0.5" dy="-2.05">4</tspan></text>
<text x="134" y="182.7" font-size="7.97" text-anchor="middle">DS55980254</text>
<text x="136.4" y="320.9" font-size="7.08" text-anchor="middle">Concentration (nmol/L)</text>
<text x="33.6" y="244" font-size="7.2" text-anchor="middle" transform="rotate(-90 33.6 244)">C<tspan font-size="4.6" dy="-2.8">14</tspan><tspan dy="2.8">&#160;count (cpm)</tspan></text>
<polyline points="82.1,218.2 101.78,222.6 121.46,258.3 141.14,279.1 160.82,283.8 180.5,286.8 200.18,285.7" fill="none" stroke="#e0232f" stroke-width="1" stroke-linejoin="round"/>
<line x1="82.1" y1="208" x2="82.1" y2="227.3" stroke="#e0232f" stroke-width="0.9"/>
<line x1="79.9" y1="208" x2="84.3" y2="208" stroke="#e0232f" stroke-width="0.9"/>
<line x1="79.9" y1="227.3" x2="84.3" y2="227.3" stroke="#e0232f" stroke-width="0.9"/>
<rect x="80" y="216.1" width="4.2" height="4.2" fill="#e0232f"/>
<rect x="99.68" y="220.5" width="4.2" height="4.2" fill="#e0232f"/>
<rect x="119.36" y="256.2" width="4.2" height="4.2" fill="#e0232f"/>
<rect x="139.04" y="277" width="4.2" height="4.2" fill="#e0232f"/>
<rect x="158.72" y="281.7" width="4.2" height="4.2" fill="#e0232f"/>
<rect x="178.4" y="284.7" width="4.2" height="4.2" fill="#e0232f"/>
<rect x="198.08" y="283.6" width="4.2" height="4.2" fill="#e0232f"/>
<polyline points="82.1,212.9 101.78,215.3 121.46,231.2 141.14,238.2 160.82,238.2 180.5,238.7 200.18,234.7" fill="none" stroke="#1c4790" stroke-width="1" stroke-linejoin="round"/>
<line x1="82.1" y1="206.6" x2="82.1" y2="216" stroke="#1c4790" stroke-width="0.9"/>
<line x1="79.9" y1="206.6" x2="84.3" y2="206.6" stroke="#1c4790" stroke-width="0.9"/>
<line x1="79.9" y1="216" x2="84.3" y2="216" stroke="#1c4790" stroke-width="0.9"/>
<line x1="141.14" y1="233.3" x2="141.14" y2="242.8" stroke="#1c4790" stroke-width="0.9"/>
<line x1="138.94" y1="233.3" x2="143.34" y2="233.3" stroke="#1c4790" stroke-width="0.9"/>
<line x1="138.94" y1="242.8" x2="143.34" y2="242.8" stroke="#1c4790" stroke-width="0.9"/>
<line x1="160.82" y1="234.3" x2="160.82" y2="242" stroke="#1c4790" stroke-width="0.9"/>
<line x1="158.62" y1="234.3" x2="163.02" y2="234.3" stroke="#1c4790" stroke-width="0.9"/>
<line x1="158.62" y1="242" x2="163.02" y2="242" stroke="#1c4790" stroke-width="0.9"/>
<line x1="180.5" y1="234.8" x2="180.5" y2="242.6" stroke="#1c4790" stroke-width="0.9"/>
<line x1="178.3" y1="234.8" x2="182.7" y2="234.8" stroke="#1c4790" stroke-width="0.9"/>
<line x1="178.3" y1="242.6" x2="182.7" y2="242.6" stroke="#1c4790" stroke-width="0.9"/>
<circle cx="82.1" cy="212.9" r="2.25" fill="#1c4790"/>
<circle cx="101.78" cy="215.3" r="2.25" fill="#1c4790"/>
<circle cx="121.46" cy="231.2" r="2.25" fill="#1c4790"/>
<circle cx="141.14" cy="238.2" r="2.25" fill="#1c4790"/>
<circle cx="160.82" cy="238.2" r="2.25" fill="#1c4790"/>
<circle cx="180.5" cy="238.7" r="2.25" fill="#1c4790"/>
<circle cx="200.18" cy="234.7" r="2.25" fill="#1c4790"/>
<rect x="99.68" y="213.2" width="4.2" height="4.2" fill="#1c4790"/>
<polyline points="139.4,192.3 137.2,192.3 137.2,218.3 139.4,218.3" fill="none" stroke="#555" stroke-width="0.9"/>
<text x="134" y="206.6" font-size="6.45" text-anchor="end">HCT116</text>
<line x1="142.7" y1="198.1" x2="153.6" y2="198.1" stroke="#1c4790" stroke-width="1"/>
<circle cx="148.2" cy="198.1" r="1.8" fill="#1c4790"/>
<text x="156.5" y="200.7" font-size="7.3">Parent</text>
<line x1="142.7" y1="210.8" x2="153.6" y2="210.8" stroke="#e0232f" stroke-width="1"/>
<rect x="146.5" y="209.1" width="3.4" height="3.4" fill="#e0232f"/>
<text x="156.5" y="213.4" font-size="7.15">PTDSS2-KO#3</text>
<line x1="285" y1="190.3" x2="285" y2="320.3" stroke="#2b2b2b" stroke-width="1"/>
<line x1="281.5" y1="320.3" x2="285" y2="320.3" stroke="#2b2b2b" stroke-width="1"/>
<text x="280.1" y="322.54" font-size="6.4" text-anchor="end">−50</text>
<line x1="281.5" y1="287.8" x2="285" y2="287.8" stroke="#2b2b2b" stroke-width="1"/>
<text x="280.1" y="290.04" font-size="6.4" text-anchor="end">0</text>
<line x1="281.5" y1="255.3" x2="285" y2="255.3" stroke="#2b2b2b" stroke-width="1"/>
<text x="280.1" y="257.54" font-size="6.4" text-anchor="end">50</text>
<line x1="281.5" y1="222.8" x2="285" y2="222.8" stroke="#2b2b2b" stroke-width="1"/>
<text x="280.1" y="225.04" font-size="6.4" text-anchor="end">100</text>
<line x1="281.5" y1="190.3" x2="285" y2="190.3" stroke="#2b2b2b" stroke-width="1"/>
<text x="280.1" y="192.54" font-size="6.4" text-anchor="end">150</text>
<line x1="285" y1="287.8" x2="457.1" y2="287.8" stroke="#2b2b2b" stroke-width="1"/>
<line x1="309.8" y1="287.8" x2="309.8" y2="290.3" stroke="#2b2b2b" stroke-width="1"/>
<text x="309.8" y="299.3" font-size="7" text-anchor="middle">10<tspan font-size="3.71" dx="0.5" dy="-2.31">−1</tspan></text>
<line x1="334.35" y1="287.8" x2="334.35" y2="290.3" stroke="#2b2b2b" stroke-width="1"/>
<text x="334.35" y="299.3" font-size="7" text-anchor="middle">10<tspan font-size="3.71" dx="0.5" dy="-2.31">0</tspan></text>
<line x1="358.9" y1="287.8" x2="358.9" y2="290.3" stroke="#2b2b2b" stroke-width="1"/>
<text x="358.9" y="299.3" font-size="7" text-anchor="middle">10<tspan font-size="3.71" dx="0.5" dy="-2.31">1</tspan></text>
<line x1="383.45" y1="287.8" x2="383.45" y2="290.3" stroke="#2b2b2b" stroke-width="1"/>
<text x="383.45" y="299.3" font-size="7" text-anchor="middle">10<tspan font-size="3.71" dx="0.5" dy="-2.31">2</tspan></text>
<line x1="408" y1="287.8" x2="408" y2="290.3" stroke="#2b2b2b" stroke-width="1"/>
<text x="408" y="299.3" font-size="7" text-anchor="middle">10<tspan font-size="3.71" dx="0.5" dy="-2.31">3</tspan></text>
<line x1="432.55" y1="287.8" x2="432.55" y2="290.3" stroke="#2b2b2b" stroke-width="1"/>
<text x="432.55" y="299.3" font-size="7" text-anchor="middle">10<tspan font-size="3.71" dx="0.5" dy="-2.31">4</tspan></text>
<line x1="457.1" y1="287.8" x2="457.1" y2="290.3" stroke="#2b2b2b" stroke-width="1"/>
<text x="457.1" y="299.3" font-size="7" text-anchor="middle">10<tspan font-size="3.71" dx="0.5" dy="-2.31">5</tspan></text>
<line x1="292.64" y1="287.8" x2="292.64" y2="289.1" stroke="#2b2b2b" stroke-width="0.6"/>
<line x1="296.96" y1="287.8" x2="296.96" y2="289.1" stroke="#2b2b2b" stroke-width="0.6"/>
<line x1="300.03" y1="287.8" x2="300.03" y2="289.1" stroke="#2b2b2b" stroke-width="0.6"/>
<line x1="302.41" y1="287.8" x2="302.41" y2="289.1" stroke="#2b2b2b" stroke-width="0.6"/>
<line x1="304.35" y1="287.8" x2="304.35" y2="289.1" stroke="#2b2b2b" stroke-width="0.6"/>
<line x1="306" y1="287.8" x2="306" y2="289.1" stroke="#2b2b2b" stroke-width="0.6"/>
<line x1="307.42" y1="287.8" x2="307.42" y2="289.1" stroke="#2b2b2b" stroke-width="0.6"/>
<line x1="308.68" y1="287.8" x2="308.68" y2="289.1" stroke="#2b2b2b" stroke-width="0.6"/>
<line x1="317.19" y1="287.8" x2="317.19" y2="289.1" stroke="#2b2b2b" stroke-width="0.6"/>
<line x1="321.51" y1="287.8" x2="321.51" y2="289.1" stroke="#2b2b2b" stroke-width="0.6"/>
<line x1="324.58" y1="287.8" x2="324.58" y2="289.1" stroke="#2b2b2b" stroke-width="0.6"/>
<line x1="326.96" y1="287.8" x2="326.96" y2="289.1" stroke="#2b2b2b" stroke-width="0.6"/>
<line x1="328.9" y1="287.8" x2="328.9" y2="289.1" stroke="#2b2b2b" stroke-width="0.6"/>
<line x1="330.55" y1="287.8" x2="330.55" y2="289.1" stroke="#2b2b2b" stroke-width="0.6"/>
<line x1="331.97" y1="287.8" x2="331.97" y2="289.1" stroke="#2b2b2b" stroke-width="0.6"/>
<line x1="333.23" y1="287.8" x2="333.23" y2="289.1" stroke="#2b2b2b" stroke-width="0.6"/>
<line x1="341.74" y1="287.8" x2="341.74" y2="289.1" stroke="#2b2b2b" stroke-width="0.6"/>
<line x1="346.06" y1="287.8" x2="346.06" y2="289.1" stroke="#2b2b2b" stroke-width="0.6"/>
<line x1="349.13" y1="287.8" x2="349.13" y2="289.1" stroke="#2b2b2b" stroke-width="0.6"/>
<line x1="351.51" y1="287.8" x2="351.51" y2="289.1" stroke="#2b2b2b" stroke-width="0.6"/>
<line x1="353.45" y1="287.8" x2="353.45" y2="289.1" stroke="#2b2b2b" stroke-width="0.6"/>
<line x1="355.1" y1="287.8" x2="355.1" y2="289.1" stroke="#2b2b2b" stroke-width="0.6"/>
<line x1="356.52" y1="287.8" x2="356.52" y2="289.1" stroke="#2b2b2b" stroke-width="0.6"/>
<line x1="357.78" y1="287.8" x2="357.78" y2="289.1" stroke="#2b2b2b" stroke-width="0.6"/>
<line x1="366.29" y1="287.8" x2="366.29" y2="289.1" stroke="#2b2b2b" stroke-width="0.6"/>
<line x1="370.61" y1="287.8" x2="370.61" y2="289.1" stroke="#2b2b2b" stroke-width="0.6"/>
<line x1="373.68" y1="287.8" x2="373.68" y2="289.1" stroke="#2b2b2b" stroke-width="0.6"/>
<line x1="376.06" y1="287.8" x2="376.06" y2="289.1" stroke="#2b2b2b" stroke-width="0.6"/>
<line x1="378" y1="287.8" x2="378" y2="289.1" stroke="#2b2b2b" stroke-width="0.6"/>
<line x1="379.65" y1="287.8" x2="379.65" y2="289.1" stroke="#2b2b2b" stroke-width="0.6"/>
<line x1="381.07" y1="287.8" x2="381.07" y2="289.1" stroke="#2b2b2b" stroke-width="0.6"/>
<line x1="382.33" y1="287.8" x2="382.33" y2="289.1" stroke="#2b2b2b" stroke-width="0.6"/>
<line x1="390.84" y1="287.8" x2="390.84" y2="289.1" stroke="#2b2b2b" stroke-width="0.6"/>
<line x1="395.16" y1="287.8" x2="395.16" y2="289.1" stroke="#2b2b2b" stroke-width="0.6"/>
<line x1="398.23" y1="287.8" x2="398.23" y2="289.1" stroke="#2b2b2b" stroke-width="0.6"/>
<line x1="400.61" y1="287.8" x2="400.61" y2="289.1" stroke="#2b2b2b" stroke-width="0.6"/>
<line x1="402.55" y1="287.8" x2="402.55" y2="289.1" stroke="#2b2b2b" stroke-width="0.6"/>
<line x1="404.2" y1="287.8" x2="404.2" y2="289.1" stroke="#2b2b2b" stroke-width="0.6"/>
<line x1="405.62" y1="287.8" x2="405.62" y2="289.1" stroke="#2b2b2b" stroke-width="0.6"/>
<line x1="406.88" y1="287.8" x2="406.88" y2="289.1" stroke="#2b2b2b" stroke-width="0.6"/>
<line x1="415.39" y1="287.8" x2="415.39" y2="289.1" stroke="#2b2b2b" stroke-width="0.6"/>
<line x1="419.71" y1="287.8" x2="419.71" y2="289.1" stroke="#2b2b2b" stroke-width="0.6"/>
<line x1="422.78" y1="287.8" x2="422.78" y2="289.1" stroke="#2b2b2b" stroke-width="0.6"/>
<line x1="425.16" y1="287.8" x2="425.16" y2="289.1" stroke="#2b2b2b" stroke-width="0.6"/>
<line x1="427.1" y1="287.8" x2="427.1" y2="289.1" stroke="#2b2b2b" stroke-width="0.6"/>
<line x1="428.75" y1="287.8" x2="428.75" y2="289.1" stroke="#2b2b2b" stroke-width="0.6"/>
<line x1="430.17" y1="287.8" x2="430.17" y2="289.1" stroke="#2b2b2b" stroke-width="0.6"/>
<line x1="431.43" y1="287.8" x2="431.43" y2="289.1" stroke="#2b2b2b" stroke-width="0.6"/>
<line x1="439.94" y1="287.8" x2="439.94" y2="289.1" stroke="#2b2b2b" stroke-width="0.6"/>
<line x1="444.26" y1="287.8" x2="444.26" y2="289.1" stroke="#2b2b2b" stroke-width="0.6"/>
<line x1="447.33" y1="287.8" x2="447.33" y2="289.1" stroke="#2b2b2b" stroke-width="0.6"/>
<line x1="449.71" y1="287.8" x2="449.71" y2="289.1" stroke="#2b2b2b" stroke-width="0.6"/>
<line x1="451.65" y1="287.8" x2="451.65" y2="289.1" stroke="#2b2b2b" stroke-width="0.6"/>
<line x1="453.3" y1="287.8" x2="453.3" y2="289.1" stroke="#2b2b2b" stroke-width="0.6"/>
<line x1="454.72" y1="287.8" x2="454.72" y2="289.1" stroke="#2b2b2b" stroke-width="0.6"/>
<line x1="455.98" y1="287.8" x2="455.98" y2="289.1" stroke="#2b2b2b" stroke-width="0.6"/>
<text x="369" y="182.9" font-size="7.97" text-anchor="middle">DS55980254</text>
<text x="380" y="310.3" font-size="8.1" text-anchor="middle">Concentration (nmol/L)</text>
<text x="262" y="245" font-size="8.1" text-anchor="middle" transform="rotate(-90 262 245)">Growth (%)</text>
<polyline points="309.2,226.5 324,227.3 338.8,224.2 353.6,226.5 368.4,227.3 383.2,228.4 398,231.3 412.8,231 427.6,236.5 442.4,245.7" fill="none" stroke="#6a3d9a" stroke-width="1" stroke-linejoin="round"/>
<line x1="309.2" y1="219" x2="309.2" y2="235.8" stroke="#6a3d9a" stroke-width="0.9"/>
<line x1="307" y1="219" x2="311.4" y2="219" stroke="#6a3d9a" stroke-width="0.9"/>
<line x1="307" y1="235.8" x2="311.4" y2="235.8" stroke="#6a3d9a" stroke-width="0.9"/>
<line x1="324" y1="220" x2="324" y2="235.5" stroke="#6a3d9a" stroke-width="0.9"/>
<line x1="321.8" y1="220" x2="326.2" y2="220" stroke="#6a3d9a" stroke-width="0.9"/>
<line x1="321.8" y1="235.5" x2="326.2" y2="235.5" stroke="#6a3d9a" stroke-width="0.9"/>
<line x1="338.8" y1="218.5" x2="338.8" y2="231.5" stroke="#6a3d9a" stroke-width="0.9"/>
<line x1="336.6" y1="218.5" x2="341" y2="218.5" stroke="#6a3d9a" stroke-width="0.9"/>
<line x1="336.6" y1="231.5" x2="341" y2="231.5" stroke="#6a3d9a" stroke-width="0.9"/>
<line x1="353.6" y1="219.5" x2="353.6" y2="234" stroke="#6a3d9a" stroke-width="0.9"/>
<line x1="351.4" y1="219.5" x2="355.8" y2="219.5" stroke="#6a3d9a" stroke-width="0.9"/>
<line x1="351.4" y1="234" x2="355.8" y2="234" stroke="#6a3d9a" stroke-width="0.9"/>
<line x1="427.6" y1="231" x2="427.6" y2="242" stroke="#6a3d9a" stroke-width="0.9"/>
<line x1="425.4" y1="231" x2="429.8" y2="231" stroke="#6a3d9a" stroke-width="0.9"/>
<line x1="425.4" y1="242" x2="429.8" y2="242" stroke="#6a3d9a" stroke-width="0.9"/>
<line x1="442.4" y1="238.7" x2="442.4" y2="252" stroke="#6a3d9a" stroke-width="0.9"/>
<line x1="440.2" y1="238.7" x2="444.6" y2="238.7" stroke="#6a3d9a" stroke-width="0.9"/>
<line x1="440.2" y1="252" x2="444.6" y2="252" stroke="#6a3d9a" stroke-width="0.9"/>
<polygon points="309.2,228.89 306.89,224.7 311.51,224.7" fill="#6a3d9a"/>
<polygon points="324,229.69 321.69,225.5 326.31,225.5" fill="#6a3d9a"/>
<polygon points="338.8,226.59 336.49,222.4 341.11,222.4" fill="#6a3d9a"/>
<polygon points="353.6,228.89 351.29,224.7 355.91,224.7" fill="#6a3d9a"/>
<polygon points="368.4,229.69 366.09,225.5 370.71,225.5" fill="#6a3d9a"/>
<polygon points="383.2,230.79 380.89,226.6 385.51,226.6" fill="#6a3d9a"/>
<polygon points="398,233.69 395.69,229.5 400.31,229.5" fill="#6a3d9a"/>
<polygon points="412.8,233.39 410.49,229.2 415.11,229.2" fill="#6a3d9a"/>
<polygon points="427.6,238.89 425.29,234.7 429.91,234.7" fill="#6a3d9a"/>
<polygon points="442.4,248.09 440.09,243.9 444.71,243.9" fill="#6a3d9a"/>
<polyline points="309.2,218.8 324,220.4 338.8,220.4 353.6,221.2 368.4,275.3 383.2,281 398,282 412.8,283.5 427.6,284.3 442.4,284.5" fill="none" stroke="#45ad4e" stroke-width="1" stroke-linejoin="round"/>
<line x1="309.2" y1="214.2" x2="309.2" y2="223" stroke="#45ad4e" stroke-width="0.9"/>
<line x1="307" y1="214.2" x2="311.4" y2="214.2" stroke="#45ad4e" stroke-width="0.9"/>
<line x1="307" y1="223" x2="311.4" y2="223" stroke="#45ad4e" stroke-width="0.9"/>
<line x1="324" y1="215.5" x2="324" y2="225" stroke="#45ad4e" stroke-width="0.9"/>
<line x1="321.8" y1="215.5" x2="326.2" y2="215.5" stroke="#45ad4e" stroke-width="0.9"/>
<line x1="321.8" y1="225" x2="326.2" y2="225" stroke="#45ad4e" stroke-width="0.9"/>
<polygon points="309.2,216.41 306.89,220.6 311.51,220.6" fill="#45ad4e"/>
<polygon points="324,218.01 321.69,222.2 326.31,222.2" fill="#45ad4e"/>
<polygon points="338.8,218.01 336.49,222.2 341.11,222.2" fill="#45ad4e"/>
<polygon points="353.6,218.81 351.29,223 355.91,223" fill="#45ad4e"/>
<polygon points="368.4,272.91 366.09,277.1 370.71,277.1" fill="#45ad4e"/>
<polygon points="383.2,278.61 380.89,282.8 385.51,282.8" fill="#45ad4e"/>
<polygon points="398,279.61 395.69,283.8 400.31,283.8" fill="#45ad4e"/>
<polygon points="412.8,281.11 410.49,285.3 415.11,285.3" fill="#45ad4e"/>
<polygon points="427.6,281.91 425.29,286.1 429.91,286.1" fill="#45ad4e"/>
<polygon points="442.4,282.11 440.09,286.3 444.71,286.3" fill="#45ad4e"/>
<polyline points="309.2,227.3 324,223.2 338.8,225 353.6,225 368.4,275.5 383.2,281.3 398,281.7 412.8,283.8 427.6,286.4 442.4,292.3" fill="none" stroke="#e0232f" stroke-width="1" stroke-linejoin="round"/>
<line x1="309.2" y1="221" x2="309.2" y2="233" stroke="#e0232f" stroke-width="0.9"/>
<line x1="307" y1="221" x2="311.4" y2="221" stroke="#e0232f" stroke-width="0.9"/>
<line x1="307" y1="233" x2="311.4" y2="233" stroke="#e0232f" stroke-width="0.9"/>
<line x1="324" y1="214.5" x2="324" y2="230" stroke="#e0232f" stroke-width="0.9"/>
<line x1="321.8" y1="214.5" x2="326.2" y2="214.5" stroke="#e0232f" stroke-width="0.9"/>
<line x1="321.8" y1="230" x2="326.2" y2="230" stroke="#e0232f" stroke-width="0.9"/>
<line x1="338.8" y1="220" x2="338.8" y2="231.5" stroke="#e0232f" stroke-width="0.9"/>
<line x1="336.6" y1="220" x2="341" y2="220" stroke="#e0232f" stroke-width="0.9"/>
<line x1="336.6" y1="231.5" x2="341" y2="231.5" stroke="#e0232f" stroke-width="0.9"/>
<line x1="353.6" y1="217.5" x2="353.6" y2="230" stroke="#e0232f" stroke-width="0.9"/>
<line x1="351.4" y1="217.5" x2="355.8" y2="217.5" stroke="#e0232f" stroke-width="0.9"/>
<line x1="351.4" y1="230" x2="355.8" y2="230" stroke="#e0232f" stroke-width="0.9"/>
<line x1="442.4" y1="288" x2="442.4" y2="297.6" stroke="#e0232f" stroke-width="0.9"/>
<line x1="440.2" y1="288" x2="444.6" y2="288" stroke="#e0232f" stroke-width="0.9"/>
<line x1="440.2" y1="297.6" x2="444.6" y2="297.6" stroke="#e0232f" stroke-width="0.9"/>
<rect x="307.2" y="225.3" width="4" height="4" fill="#e0232f"/>
<rect x="322" y="221.2" width="4" height="4" fill="#e0232f"/>
<rect x="336.8" y="223" width="4" height="4" fill="#e0232f"/>
<rect x="351.6" y="223" width="4" height="4" fill="#e0232f"/>
<rect x="366.4" y="273.5" width="4" height="4" fill="#e0232f"/>
<rect x="381.2" y="279.3" width="4" height="4" fill="#e0232f"/>
<rect x="396" y="279.7" width="4" height="4" fill="#e0232f"/>
<rect x="410.8" y="281.8" width="4" height="4" fill="#e0232f"/>
<rect x="425.6" y="284.4" width="4" height="4" fill="#e0232f"/>
<rect x="440.4" y="290.3" width="4" height="4" fill="#e0232f"/>
<polyline points="309.2,224.2 324,226.5 338.8,221.9 353.6,225.8 368.4,223.2 383.2,227.5 398,227.1 412.8,228.9 427.6,231.3 442.4,248.3" fill="none" stroke="#1c4790" stroke-width="1" stroke-linejoin="round"/>
<line x1="309.2" y1="218" x2="309.2" y2="230" stroke="#1c4790" stroke-width="0.9"/>
<line x1="307" y1="218" x2="311.4" y2="218" stroke="#1c4790" stroke-width="0.9"/>
<line x1="307" y1="230" x2="311.4" y2="230" stroke="#1c4790" stroke-width="0.9"/>
<line x1="324" y1="220.5" x2="324" y2="232" stroke="#1c4790" stroke-width="0.9"/>
<line x1="321.8" y1="220.5" x2="326.2" y2="220.5" stroke="#1c4790" stroke-width="0.9"/>
<line x1="321.8" y1="232" x2="326.2" y2="232" stroke="#1c4790" stroke-width="0.9"/>
<line x1="338.8" y1="216.5" x2="338.8" y2="227" stroke="#1c4790" stroke-width="0.9"/>
<line x1="336.6" y1="216.5" x2="341" y2="216.5" stroke="#1c4790" stroke-width="0.9"/>
<line x1="336.6" y1="227" x2="341" y2="227" stroke="#1c4790" stroke-width="0.9"/>
<line x1="353.6" y1="217" x2="353.6" y2="232" stroke="#1c4790" stroke-width="0.9"/>
<line x1="351.4" y1="217" x2="355.8" y2="217" stroke="#1c4790" stroke-width="0.9"/>
<line x1="351.4" y1="232" x2="355.8" y2="232" stroke="#1c4790" stroke-width="0.9"/>
<line x1="368.4" y1="213.7" x2="368.4" y2="232.3" stroke="#1c4790" stroke-width="0.9"/>
<line x1="366.2" y1="213.7" x2="370.6" y2="213.7" stroke="#1c4790" stroke-width="0.9"/>
<line x1="366.2" y1="232.3" x2="370.6" y2="232.3" stroke="#1c4790" stroke-width="0.9"/>
<line x1="383.2" y1="222" x2="383.2" y2="233" stroke="#1c4790" stroke-width="0.9"/>
<line x1="381" y1="222" x2="385.4" y2="222" stroke="#1c4790" stroke-width="0.9"/>
<line x1="381" y1="233" x2="385.4" y2="233" stroke="#1c4790" stroke-width="0.9"/>
<line x1="398" y1="217.5" x2="398" y2="237" stroke="#1c4790" stroke-width="0.9"/>
<line x1="395.8" y1="217.5" x2="400.2" y2="217.5" stroke="#1c4790" stroke-width="0.9"/>
<line x1="395.8" y1="237" x2="400.2" y2="237" stroke="#1c4790" stroke-width="0.9"/>
<line x1="412.8" y1="224" x2="412.8" y2="234" stroke="#1c4790" stroke-width="0.9"/>
<line x1="410.6" y1="224" x2="415" y2="224" stroke="#1c4790" stroke-width="0.9"/>
<line x1="410.6" y1="234" x2="415" y2="234" stroke="#1c4790" stroke-width="0.9"/>
<line x1="427.6" y1="226" x2="427.6" y2="236.5" stroke="#1c4790" stroke-width="0.9"/>
<line x1="425.4" y1="226" x2="429.8" y2="226" stroke="#1c4790" stroke-width="0.9"/>
<line x1="425.4" y1="236.5" x2="429.8" y2="236.5" stroke="#1c4790" stroke-width="0.9"/>
<line x1="442.4" y1="244" x2="442.4" y2="253" stroke="#1c4790" stroke-width="0.9"/>
<line x1="440.2" y1="244" x2="444.6" y2="244" stroke="#1c4790" stroke-width="0.9"/>
<line x1="440.2" y1="253" x2="444.6" y2="253" stroke="#1c4790" stroke-width="0.9"/>
<circle cx="309.2" cy="224.2" r="2.2" fill="#1c4790"/>
<circle cx="324" cy="226.5" r="2.2" fill="#1c4790"/>
<circle cx="338.8" cy="221.9" r="2.2" fill="#1c4790"/>
<circle cx="353.6" cy="225.8" r="2.2" fill="#1c4790"/>
<circle cx="368.4" cy="223.2" r="2.2" fill="#1c4790"/>
<circle cx="383.2" cy="227.5" r="2.2" fill="#1c4790"/>
<circle cx="398" cy="227.1" r="2.2" fill="#1c4790"/>
<circle cx="412.8" cy="228.9" r="2.2" fill="#1c4790"/>
<circle cx="427.6" cy="231.3" r="2.2" fill="#1c4790"/>
<circle cx="442.4" cy="248.3" r="2.2" fill="#1c4790"/>
<polyline points="434.7,188.3 432.5,188.3 432.5,214.3 434.7,214.3" fill="none" stroke="#555" stroke-width="0.9"/>
<text x="429.6" y="204" font-size="5.9" text-anchor="end">HCT116</text>
<line x1="434.7" y1="192.7" x2="441.7" y2="192.7" stroke="#1c4790" stroke-width="0.9"/>
<circle cx="438.2" cy="192.7" r="1.5" fill="#1c4790"/>
<text x="445.7" y="194.8" font-size="5.86">Parent</text>
<line x1="434.7" y1="201.8" x2="441.7" y2="201.8" stroke="#e0232f" stroke-width="0.9"/>
<rect x="436.7" y="200.3" width="3" height="3" fill="#e0232f"/>
<text x="445.7" y="203.9" font-size="5.86">PTDSS2-KO#3</text>
<line x1="434.7" y1="211" x2="441.7" y2="211" stroke="#45ad4e" stroke-width="0.9"/>
<polygon points="438.2,209.29 436.55,212.28 439.85,212.28" fill="#45ad4e"/>
<text x="445.7" y="213.1" font-size="5.86">PTDSS2-KO#16</text>
<line x1="434.7" y1="219.7" x2="441.7" y2="219.7" stroke="#6a3d9a" stroke-width="0.9"/>
<polygon points="438.2,221.41 436.55,218.42 439.85,218.42" fill="#6a3d9a"/>
<text x="445.7" y="221.8" font-size="5.86">ARPE-19</text>
<line x1="45.6" y1="369.2" x2="45.6" y2="530.3" stroke="#2b2b2b" stroke-width="1"/>
<line x1="41.6" y1="530.3" x2="45.6" y2="530.3" stroke="#2b2b2b" stroke-width="1"/>
<text x="39.6" y="533.26" font-size="8.45" text-anchor="end">0</text>
<line x1="41.6" y1="476.6" x2="45.6" y2="476.6" stroke="#2b2b2b" stroke-width="1"/>
<text x="39.6" y="479.56" font-size="8.45" text-anchor="end">1,000</text>
<line x1="41.6" y1="422.9" x2="45.6" y2="422.9" stroke="#2b2b2b" stroke-width="1"/>
<text x="39.6" y="425.86" font-size="8.45" text-anchor="end">2,000</text>
<line x1="41.6" y1="369.2" x2="45.6" y2="369.2" stroke="#2b2b2b" stroke-width="1"/>
<text x="39.6" y="372.16" font-size="8.45" text-anchor="end">3,000</text>
<line x1="45.6" y1="530.3" x2="218.32" y2="530.3" stroke="#2b2b2b" stroke-width="1"/>
<line x1="65.92" y1="530.3" x2="65.92" y2="533.3" stroke="#2b2b2b" stroke-width="1"/>
<text x="65.92" y="544" font-size="8.45" text-anchor="middle">20</text>
<line x1="116.72" y1="530.3" x2="116.72" y2="533.3" stroke="#2b2b2b" stroke-width="1"/>
<text x="116.72" y="544" font-size="8.45" text-anchor="middle">30</text>
<line x1="167.52" y1="530.3" x2="167.52" y2="533.3" stroke="#2b2b2b" stroke-width="1"/>
<text x="167.52" y="544" font-size="8.45" text-anchor="middle">40</text>
<line x1="218.32" y1="530.3" x2="218.32" y2="533.3" stroke="#2b2b2b" stroke-width="1"/>
<text x="218.32" y="544" font-size="8.45" text-anchor="middle">50</text>
<text x="131" y="356.6" font-size="9.35" text-anchor="middle">HCT116</text>
<text x="131.7" y="366.5" font-size="9.1" text-anchor="middle">PTDSS2-KO#3</text>
<text x="133" y="556" font-size="9.2" text-anchor="middle">Days after inoculation</text>
<text x="12.2" y="448.3" font-size="9.35" text-anchor="middle" transform="rotate(-90 12.2 448.3)">Estimated tumor volume (mm<tspan font-size="5.8" dy="-3.6">3</tspan><tspan dy="3.6">)</tspan></text>
<text x="95.2" y="411.6" font-size="7.8" text-anchor="end">DS55980254</text>
<polyline points="100.7,393 97.7,393 97.7,430.8 100.7,430.8" fill="none" stroke="#555" stroke-width="0.9"/>
<line x1="100.8" y1="385.4" x2="111.5" y2="385.4" stroke="#1c4790" stroke-width="1"/>
<circle cx="106" cy="385.4" r="2.3" fill="#1c4790"/>
<text x="118.2" y="388.44" font-size="8.45">Vehicle</text>
<line x1="100.8" y1="398.9" x2="111.5" y2="398.9" stroke="#e0232f" stroke-width="1"/>
<rect x="103.7" y="396.6" width="4.6" height="4.6" fill="#e0232f"/>
<text x="118.2" y="401.94" font-size="8.45">10 mg/kg</text>
<line x1="100.8" y1="412.3" x2="111.5" y2="412.3" stroke="#45ad4e" stroke-width="1"/>
<polygon points="106,409.68 103.47,414.27 108.53,414.27" fill="#45ad4e"/>
<text x="118.2" y="415.34" font-size="8.45">30 mg/kg</text>
<line x1="100.8" y1="425.4" x2="111.5" y2="425.4" stroke="#6a3d9a" stroke-width="1"/>
<polygon points="106,428.02 103.47,423.43 108.53,423.43" fill="#6a3d9a"/>
<text x="118.2" y="428.44" font-size="8.45">100 mg/kg</text>
<polyline points="45.6,523.5 65.92,521 76.08,526 86.24,528.5 101.48,530 116.72,530 131.96,530 152.28,530 172.6,530 187.84,530" fill="none" stroke="#6a3d9a" stroke-width="1" stroke-linejoin="round"/>
<polygon points="45.6,525.78 43.4,521.79 47.8,521.79" fill="#6a3d9a"/>
<polygon points="65.92,523.28 63.72,519.29 68.12,519.29" fill="#6a3d9a"/>
<polygon points="76.08,528.28 73.88,524.29 78.28,524.29" fill="#6a3d9a"/>
<polygon points="86.24,530.78 84.04,526.79 88.44,526.79" fill="#6a3d9a"/>
<polygon points="101.48,532.28 99.28,528.29 103.68,528.29" fill="#6a3d9a"/>
<polygon points="116.72,532.28 114.52,528.29 118.92,528.29" fill="#6a3d9a"/>
<polygon points="131.96,532.28 129.76,528.29 134.16,528.29" fill="#6a3d9a"/>
<polygon points="152.28,532.28 150.08,528.29 154.48,528.29" fill="#6a3d9a"/>
<polygon points="172.6,532.28 170.4,528.29 174.8,528.29" fill="#6a3d9a"/>
<polygon points="187.84,532.28 185.64,528.29 190.04,528.29" fill="#6a3d9a"/>
<polyline points="45.6,523.5 65.92,522.2 76.08,525 86.24,527.7 101.48,529.4 116.72,530 131.96,530 152.28,529.8 172.6,529.5 187.84,529.6" fill="none" stroke="#45ad4e" stroke-width="1" stroke-linejoin="round"/>
<polygon points="45.6,521.22 43.4,525.21 47.8,525.21" fill="#45ad4e"/>
<polygon points="65.92,519.92 63.72,523.91 68.12,523.91" fill="#45ad4e"/>
<polygon points="76.08,522.72 73.88,526.71 78.28,526.71" fill="#45ad4e"/>
<polygon points="86.24,525.42 84.04,529.41 88.44,529.41" fill="#45ad4e"/>
<polygon points="101.48,527.12 99.28,531.11 103.68,531.11" fill="#45ad4e"/>
<polygon points="116.72,527.72 114.52,531.71 118.92,531.71" fill="#45ad4e"/>
<polygon points="131.96,527.72 129.76,531.71 134.16,531.71" fill="#45ad4e"/>
<polygon points="152.28,527.52 150.08,531.51 154.48,531.51" fill="#45ad4e"/>
<polygon points="172.6,527.22 170.4,531.21 174.8,531.21" fill="#45ad4e"/>
<polygon points="187.84,527.32 185.64,531.31 190.04,531.31" fill="#45ad4e"/>
<polyline points="45.6,523.5 65.92,520 76.08,523.6 86.24,526.2 101.48,527.5 116.72,527.5 131.96,525.6 152.28,520 172.6,513 187.84,508.3" fill="none" stroke="#e0232f" stroke-width="1" stroke-linejoin="round"/>
<line x1="65.92" y1="517.5" x2="65.92" y2="522.5" stroke="#e0232f" stroke-width="0.9"/>
<line x1="63.72" y1="517.5" x2="68.12" y2="517.5" stroke="#e0232f" stroke-width="0.9"/>
<line x1="63.72" y1="522.5" x2="68.12" y2="522.5" stroke="#e0232f" stroke-width="0.9"/>
<line x1="131.96" y1="523" x2="131.96" y2="528" stroke="#e0232f" stroke-width="0.9"/>
<line x1="129.76" y1="523" x2="134.16" y2="523" stroke="#e0232f" stroke-width="0.9"/>
<line x1="129.76" y1="528" x2="134.16" y2="528" stroke="#e0232f" stroke-width="0.9"/>
<line x1="152.28" y1="517.5" x2="152.28" y2="522.5" stroke="#e0232f" stroke-width="0.9"/>
<line x1="150.08" y1="517.5" x2="154.48" y2="517.5" stroke="#e0232f" stroke-width="0.9"/>
<line x1="150.08" y1="522.5" x2="154.48" y2="522.5" stroke="#e0232f" stroke-width="0.9"/>
<line x1="172.6" y1="509.5" x2="172.6" y2="516.5" stroke="#e0232f" stroke-width="0.9"/>
<line x1="170.4" y1="509.5" x2="174.8" y2="509.5" stroke="#e0232f" stroke-width="0.9"/>
<line x1="170.4" y1="516.5" x2="174.8" y2="516.5" stroke="#e0232f" stroke-width="0.9"/>
<line x1="187.84" y1="504" x2="187.84" y2="513" stroke="#e0232f" stroke-width="0.9"/>
<line x1="185.64" y1="504" x2="190.04" y2="504" stroke="#e0232f" stroke-width="0.9"/>
<line x1="185.64" y1="513" x2="190.04" y2="513" stroke="#e0232f" stroke-width="0.9"/>
<rect x="43.45" y="521.35" width="4.3" height="4.3" fill="#e0232f"/>
<rect x="63.77" y="517.85" width="4.3" height="4.3" fill="#e0232f"/>
<rect x="73.93" y="521.45" width="4.3" height="4.3" fill="#e0232f"/>
<rect x="84.09" y="524.05" width="4.3" height="4.3" fill="#e0232f"/>
<rect x="99.33" y="525.35" width="4.3" height="4.3" fill="#e0232f"/>
<rect x="114.57" y="525.35" width="4.3" height="4.3" fill="#e0232f"/>
<rect x="129.81" y="523.45" width="4.3" height="4.3" fill="#e0232f"/>
<rect x="150.13" y="517.85" width="4.3" height="4.3" fill="#e0232f"/>
<rect x="170.45" y="510.85" width="4.3" height="4.3" fill="#e0232f"/>
<rect x="185.69" y="506.15" width="4.3" height="4.3" fill="#e0232f"/>
<polyline points="45.6,523.5 65.92,515.2 76.08,508.5 86.24,505.2 101.48,497.7 116.72,484.6 131.96,473.8 152.28,455.8 172.6,436.9 187.84,414.9" fill="none" stroke="#1c4790" stroke-width="1" stroke-linejoin="round"/>
<line x1="101.48" y1="495.2" x2="101.48" y2="500.2" stroke="#1c4790" stroke-width="0.9"/>
<line x1="99.28" y1="495.2" x2="103.68" y2="495.2" stroke="#1c4790" stroke-width="0.9"/>
<line x1="99.28" y1="500.2" x2="103.68" y2="500.2" stroke="#1c4790" stroke-width="0.9"/>
<line x1="116.72" y1="481.3" x2="116.72" y2="487.9" stroke="#1c4790" stroke-width="0.9"/>
<line x1="114.52" y1="481.3" x2="118.92" y2="481.3" stroke="#1c4790" stroke-width="0.9"/>
<line x1="114.52" y1="487.9" x2="118.92" y2="487.9" stroke="#1c4790" stroke-width="0.9"/>
<line x1="131.96" y1="466.9" x2="131.96" y2="481" stroke="#1c4790" stroke-width="0.9"/>
<line x1="129.76" y1="466.9" x2="134.16" y2="466.9" stroke="#1c4790" stroke-width="0.9"/>
<line x1="129.76" y1="481" x2="134.16" y2="481" stroke="#1c4790" stroke-width="0.9"/>
<line x1="152.28" y1="447.8" x2="152.28" y2="463.9" stroke="#1c4790" stroke-width="0.9"/>
<line x1="150.08" y1="447.8" x2="154.48" y2="447.8" stroke="#1c4790" stroke-width="0.9"/>
<line x1="150.08" y1="463.9" x2="154.48" y2="463.9" stroke="#1c4790" stroke-width="0.9"/>
<line x1="172.6" y1="424.7" x2="172.6" y2="449.8" stroke="#1c4790" stroke-width="0.9"/>
<line x1="170.4" y1="424.7" x2="174.8" y2="424.7" stroke="#1c4790" stroke-width="0.9"/>
<line x1="170.4" y1="449.8" x2="174.8" y2="449.8" stroke="#1c4790" stroke-width="0.9"/>
<line x1="187.84" y1="397" x2="187.84" y2="433" stroke="#1c4790" stroke-width="0.9"/>
<line x1="185.64" y1="397" x2="190.04" y2="397" stroke="#1c4790" stroke-width="0.9"/>
<line x1="185.64" y1="433" x2="190.04" y2="433" stroke="#1c4790" stroke-width="0.9"/>
<circle cx="45.6" cy="523.5" r="2.2" fill="#1c4790"/>
<circle cx="65.92" cy="515.2" r="2.2" fill="#1c4790"/>
<circle cx="76.08" cy="508.5" r="2.2" fill="#1c4790"/>
<circle cx="86.24" cy="505.2" r="2.2" fill="#1c4790"/>
<circle cx="101.48" cy="497.7" r="2.2" fill="#1c4790"/>
<circle cx="116.72" cy="484.6" r="2.2" fill="#1c4790"/>
<circle cx="131.96" cy="473.8" r="2.2" fill="#1c4790"/>
<circle cx="152.28" cy="455.8" r="2.2" fill="#1c4790"/>
<circle cx="172.6" cy="436.9" r="2.2" fill="#1c4790"/>
<circle cx="187.84" cy="414.9" r="2.2" fill="#1c4790"/>
<line x1="288.5" y1="369.4" x2="288.5" y2="531.2" stroke="#2b2b2b" stroke-width="1"/>
<line x1="284.5" y1="531.2" x2="288.5" y2="531.2" stroke="#2b2b2b" stroke-width="1"/>
<text x="282.7" y="534.16" font-size="8.45" text-anchor="end">0</text>
<line x1="284.5" y1="490.75" x2="288.5" y2="490.75" stroke="#2b2b2b" stroke-width="1"/>
<text x="282.7" y="493.71" font-size="8.45" text-anchor="end">500</text>
<line x1="284.5" y1="450.3" x2="288.5" y2="450.3" stroke="#2b2b2b" stroke-width="1"/>
<text x="282.7" y="453.26" font-size="8.45" text-anchor="end">1,000</text>
<line x1="284.5" y1="409.85" x2="288.5" y2="409.85" stroke="#2b2b2b" stroke-width="1"/>
<text x="282.7" y="412.81" font-size="8.45" text-anchor="end">1,500</text>
<line x1="284.5" y1="369.4" x2="288.5" y2="369.4" stroke="#2b2b2b" stroke-width="1"/>
<text x="282.7" y="372.36" font-size="8.45" text-anchor="end">2,000</text>
<line x1="288.5" y1="531.2" x2="463.61" y2="531.2" stroke="#2b2b2b" stroke-width="1"/>
<line x1="328.91" y1="531.2" x2="328.91" y2="534.2" stroke="#2b2b2b" stroke-width="1"/>
<text x="328.91" y="545" font-size="8.45" text-anchor="middle">10</text>
<line x1="396.26" y1="531.2" x2="396.26" y2="534.2" stroke="#2b2b2b" stroke-width="1"/>
<text x="396.26" y="545" font-size="8.45" text-anchor="middle">15</text>
<line x1="463.61" y1="531.2" x2="463.61" y2="534.2" stroke="#2b2b2b" stroke-width="1"/>
<text x="463.61" y="545" font-size="8.45" text-anchor="middle">20</text>
<text x="365" y="354.8" font-size="9.3" text-anchor="middle">A375</text>
<text x="364.8" y="365.4" font-size="9.2" text-anchor="middle">PTDSS2-KO#54</text>
<text x="376.6" y="558.7" font-size="9.2" text-anchor="middle">Days after inoculation</text>
<text x="257.2" y="447.3" font-size="9.45" text-anchor="middle" transform="rotate(-90 257.2 447.3)">Estimated tumor volume (mm<tspan font-size="5.8" dy="-3.6">3</tspan><tspan dy="3.6">)</tspan></text>
<text x="337.5" y="406.5" font-size="7.8" text-anchor="end">DS55980254</text>
<polyline points="342.2,387 339.2,387 339.2,425.4 342.2,425.4" fill="none" stroke="#555" stroke-width="0.9"/>
<line x1="343" y1="381.2" x2="354" y2="381.2" stroke="#1c4790" stroke-width="1"/>
<circle cx="348.5" cy="381.2" r="2.3" fill="#1c4790"/>
<text x="360.4" y="384.24" font-size="8.45">Vehicle</text>
<line x1="343" y1="395" x2="354" y2="395" stroke="#e0232f" stroke-width="1"/>
<rect x="346.2" y="392.7" width="4.6" height="4.6" fill="#e0232f"/>
<text x="360.4" y="398.04" font-size="8.45">10 mg/kg</text>
<line x1="343" y1="408.5" x2="354" y2="408.5" stroke="#45ad4e" stroke-width="1"/>
<polygon points="348.5,405.88 345.97,410.47 351.03,410.47" fill="#45ad4e"/>
<text x="360.4" y="411.54" font-size="8.45">30 mg/kg</text>
<line x1="343" y1="421.9" x2="354" y2="421.9" stroke="#6a3d9a" stroke-width="1"/>
<polygon points="348.5,424.52 345.97,419.93 351.03,419.93" fill="#6a3d9a"/>
<text x="360.4" y="424.94" font-size="8.45">100 mg/kg</text>
<polyline points="288.5,518.9 315.44,512.3 328.91,520 369.32,530.2 396.26,531 423.2,531" fill="none" stroke="#6a3d9a" stroke-width="1" stroke-linejoin="round"/>
<polygon points="288.5,521.18 286.3,517.19 290.7,517.19" fill="#6a3d9a"/>
<polygon points="315.44,514.58 313.24,510.59 317.64,510.59" fill="#6a3d9a"/>
<polygon points="328.91,522.28 326.71,518.29 331.11,518.29" fill="#6a3d9a"/>
<polygon points="369.32,532.48 367.12,528.49 371.52,528.49" fill="#6a3d9a"/>
<polygon points="396.26,533.28 394.06,529.29 398.46,529.29" fill="#6a3d9a"/>
<polygon points="423.2,533.28 421,529.29 425.4,529.29" fill="#6a3d9a"/>
<polyline points="288.5,518.9 315.44,512.3 328.91,520.8 369.32,530.5 396.26,531 423.2,531" fill="none" stroke="#45ad4e" stroke-width="1" stroke-linejoin="round"/>
<polygon points="288.5,516.62 286.3,520.61 290.7,520.61" fill="#45ad4e"/>
<polygon points="315.44,510.02 313.24,514.01 317.64,514.01" fill="#45ad4e"/>
<polygon points="328.91,518.52 326.71,522.51 331.11,522.51" fill="#45ad4e"/>
<polygon points="369.32,528.22 367.12,532.21 371.52,532.21" fill="#45ad4e"/>
<polygon points="396.26,528.72 394.06,532.71 398.46,532.71" fill="#45ad4e"/>
<polygon points="423.2,528.72 421,532.71 425.4,532.71" fill="#45ad4e"/>
<polyline points="288.5,518.9 315.44,512.3 328.91,518 369.32,528.8 396.26,530.8 423.2,531" fill="none" stroke="#e0232f" stroke-width="1" stroke-linejoin="round"/>
<rect x="286.35" y="516.75" width="4.3" height="4.3" fill="#e0232f"/>
<rect x="313.29" y="510.15" width="4.3" height="4.3" fill="#e0232f"/>
<rect x="326.76" y="515.85" width="4.3" height="4.3" fill="#e0232f"/>
<rect x="367.17" y="526.65" width="4.3" height="4.3" fill="#e0232f"/>
<rect x="394.11" y="528.65" width="4.3" height="4.3" fill="#e0232f"/>
<rect x="421.05" y="528.85" width="4.3" height="4.3" fill="#e0232f"/>
<polyline points="288.5,518.9 315.44,512.3 328.91,506.2 369.32,472.7 396.26,441.6 423.2,404.1" fill="none" stroke="#1c4790" stroke-width="1" stroke-linejoin="round"/>
<line x1="328.91" y1="503.5" x2="328.91" y2="509" stroke="#1c4790" stroke-width="0.9"/>
<line x1="326.71" y1="503.5" x2="331.11" y2="503.5" stroke="#1c4790" stroke-width="0.9"/>
<line x1="326.71" y1="509" x2="331.11" y2="509" stroke="#1c4790" stroke-width="0.9"/>
<line x1="369.32" y1="465.4" x2="369.32" y2="479.6" stroke="#1c4790" stroke-width="0.9"/>
<line x1="367.12" y1="465.4" x2="371.52" y2="465.4" stroke="#1c4790" stroke-width="0.9"/>
<line x1="367.12" y1="479.6" x2="371.52" y2="479.6" stroke="#1c4790" stroke-width="0.9"/>
<line x1="396.26" y1="432.1" x2="396.26" y2="450.7" stroke="#1c4790" stroke-width="0.9"/>
<line x1="394.06" y1="432.1" x2="398.46" y2="432.1" stroke="#1c4790" stroke-width="0.9"/>
<line x1="394.06" y1="450.7" x2="398.46" y2="450.7" stroke="#1c4790" stroke-width="0.9"/>
<line x1="423.2" y1="393.5" x2="423.2" y2="414.5" stroke="#1c4790" stroke-width="0.9"/>
<line x1="421" y1="393.5" x2="425.4" y2="393.5" stroke="#1c4790" stroke-width="0.9"/>
<line x1="421" y1="414.5" x2="425.4" y2="414.5" stroke="#1c4790" stroke-width="0.9"/>
<circle cx="288.5" cy="518.9" r="2.2" fill="#1c4790"/>
<circle cx="315.44" cy="512.3" r="2.2" fill="#1c4790"/>
<circle cx="328.91" cy="506.2" r="2.2" fill="#1c4790"/>
<circle cx="369.32" cy="472.7" r="2.2" fill="#1c4790"/>
<circle cx="396.26" cy="441.6" r="2.2" fill="#1c4790"/>
<circle cx="423.2" cy="404.1" r="2.2" fill="#1c4790"/>
<polygon points="315.44,515.22 312.91,510.63 317.97,510.63" fill="#6a3d9a"/>
<line x1="45.6" y1="575" x2="45.6" y2="653.5" stroke="#2b2b2b" stroke-width="1"/>
<line x1="41.6" y1="575" x2="45.6" y2="575" stroke="#2b2b2b" stroke-width="1"/>
<text x="40.4" y="577.8" font-size="8" text-anchor="end">10</text>
<line x1="41.6" y1="590.7" x2="45.6" y2="590.7" stroke="#2b2b2b" stroke-width="1"/>
<text x="40.4" y="593.5" font-size="8" text-anchor="end">5</text>
<line x1="41.6" y1="606.4" x2="45.6" y2="606.4" stroke="#2b2b2b" stroke-width="1"/>
<text x="40.4" y="609.2" font-size="8" text-anchor="end">0</text>
<line x1="41.6" y1="622.1" x2="45.6" y2="622.1" stroke="#2b2b2b" stroke-width="1"/>
<text x="40.4" y="624.9" font-size="8" text-anchor="end">−5</text>
<line x1="41.6" y1="637.8" x2="45.6" y2="637.8" stroke="#2b2b2b" stroke-width="1"/>
<text x="40.4" y="640.6" font-size="8" text-anchor="end">−10</text>
<line x1="41.6" y1="653.5" x2="45.6" y2="653.5" stroke="#2b2b2b" stroke-width="1"/>
<text x="40.4" y="656.3" font-size="8" text-anchor="end">−15</text>
<line x1="45.6" y1="606.4" x2="218.32" y2="606.4" stroke="#2b2b2b" stroke-width="1"/>
<line x1="65.92" y1="606.4" x2="65.92" y2="609.4" stroke="#2b2b2b" stroke-width="1"/>
<text x="65.92" y="620.3" font-size="8.45" text-anchor="middle">20</text>
<line x1="116.72" y1="606.4" x2="116.72" y2="609.4" stroke="#2b2b2b" stroke-width="1"/>
<line x1="167.52" y1="606.4" x2="167.52" y2="609.4" stroke="#2b2b2b" stroke-width="1"/>
<text x="167.52" y="620.3" font-size="8.45" text-anchor="middle">40</text>
<line x1="218.32" y1="606.4" x2="218.32" y2="609.4" stroke="#2b2b2b" stroke-width="1"/>
<text x="218.32" y="620.3" font-size="8.45" text-anchor="middle">50</text>
<text x="133.5" y="659.6" font-size="9.2" text-anchor="middle">Days after inoculation</text>
<text x="20.1" y="612.6" font-size="9.15" text-anchor="middle" transform="rotate(-90 20.1 612.6)">Body weight change (%)</text>
<polyline points="45.6,606.4 50.68,609.54 55.76,611.11 60.84,614.25 65.92,611.11 71,607.34 76.08,604.83 81.16,600.75 86.24,596.04 91.32,593.84 96.4,598.55 101.48,601.69 106.56,600.75 111.64,599.81 116.72,602.63 121.8,600.75 126.88,599.18 131.96,597.61 137.04,596.35 142.12,595.1 147.2,593.84 152.28,595.41 157.36,594.47 162.44,592.27 167.52,591.33 172.6,590.07 177.68,588.19 182.76,587.56 187.84,587.56" fill="none" stroke="#6a3d9a" stroke-width="1" stroke-linejoin="round"/>
<line x1="76.08" y1="602.32" x2="76.08" y2="607.34" stroke="#6a3d9a" stroke-width="0.9"/>
<line x1="73.88" y1="602.32" x2="78.28" y2="602.32" stroke="#6a3d9a" stroke-width="0.9"/>
<line x1="73.88" y1="607.34" x2="78.28" y2="607.34" stroke="#6a3d9a" stroke-width="0.9"/>
<line x1="81.16" y1="598.24" x2="81.16" y2="603.26" stroke="#6a3d9a" stroke-width="0.9"/>
<line x1="78.96" y1="598.24" x2="83.36" y2="598.24" stroke="#6a3d9a" stroke-width="0.9"/>
<line x1="78.96" y1="603.26" x2="83.36" y2="603.26" stroke="#6a3d9a" stroke-width="0.9"/>
<line x1="86.24" y1="593.53" x2="86.24" y2="598.55" stroke="#6a3d9a" stroke-width="0.9"/>
<line x1="84.04" y1="593.53" x2="88.44" y2="593.53" stroke="#6a3d9a" stroke-width="0.9"/>
<line x1="84.04" y1="598.55" x2="88.44" y2="598.55" stroke="#6a3d9a" stroke-width="0.9"/>
<line x1="91.32" y1="591.33" x2="91.32" y2="596.35" stroke="#6a3d9a" stroke-width="0.9"/>
<line x1="89.12" y1="591.33" x2="93.52" y2="591.33" stroke="#6a3d9a" stroke-width="0.9"/>
<line x1="89.12" y1="596.35" x2="93.52" y2="596.35" stroke="#6a3d9a" stroke-width="0.9"/>
<line x1="96.4" y1="596.04" x2="96.4" y2="601.06" stroke="#6a3d9a" stroke-width="0.9"/>
<line x1="94.2" y1="596.04" x2="98.6" y2="596.04" stroke="#6a3d9a" stroke-width="0.9"/>
<line x1="94.2" y1="601.06" x2="98.6" y2="601.06" stroke="#6a3d9a" stroke-width="0.9"/>
<line x1="101.48" y1="599.18" x2="101.48" y2="604.2" stroke="#6a3d9a" stroke-width="0.9"/>
<line x1="99.28" y1="599.18" x2="103.68" y2="599.18" stroke="#6a3d9a" stroke-width="0.9"/>
<line x1="99.28" y1="604.2" x2="103.68" y2="604.2" stroke="#6a3d9a" stroke-width="0.9"/>
<line x1="106.56" y1="598.24" x2="106.56" y2="603.26" stroke="#6a3d9a" stroke-width="0.9"/>
<line x1="104.36" y1="598.24" x2="108.76" y2="598.24" stroke="#6a3d9a" stroke-width="0.9"/>
<line x1="104.36" y1="603.26" x2="108.76" y2="603.26" stroke="#6a3d9a" stroke-width="0.9"/>
<line x1="111.64" y1="597.29" x2="111.64" y2="602.32" stroke="#6a3d9a" stroke-width="0.9"/>
<line x1="109.44" y1="597.29" x2="113.84" y2="597.29" stroke="#6a3d9a" stroke-width="0.9"/>
<line x1="109.44" y1="602.32" x2="113.84" y2="602.32" stroke="#6a3d9a" stroke-width="0.9"/>
<line x1="116.72" y1="600.12" x2="116.72" y2="605.14" stroke="#6a3d9a" stroke-width="0.9"/>
<line x1="114.52" y1="600.12" x2="118.92" y2="600.12" stroke="#6a3d9a" stroke-width="0.9"/>
<line x1="114.52" y1="605.14" x2="118.92" y2="605.14" stroke="#6a3d9a" stroke-width="0.9"/>
<line x1="121.8" y1="598.24" x2="121.8" y2="603.26" stroke="#6a3d9a" stroke-width="0.9"/>
<line x1="119.6" y1="598.24" x2="124" y2="598.24" stroke="#6a3d9a" stroke-width="0.9"/>
<line x1="119.6" y1="603.26" x2="124" y2="603.26" stroke="#6a3d9a" stroke-width="0.9"/>
<line x1="126.88" y1="596.67" x2="126.88" y2="601.69" stroke="#6a3d9a" stroke-width="0.9"/>
<line x1="124.68" y1="596.67" x2="129.08" y2="596.67" stroke="#6a3d9a" stroke-width="0.9"/>
<line x1="124.68" y1="601.69" x2="129.08" y2="601.69" stroke="#6a3d9a" stroke-width="0.9"/>
<line x1="131.96" y1="595.1" x2="131.96" y2="600.12" stroke="#6a3d9a" stroke-width="0.9"/>
<line x1="129.76" y1="595.1" x2="134.16" y2="595.1" stroke="#6a3d9a" stroke-width="0.9"/>
<line x1="129.76" y1="600.12" x2="134.16" y2="600.12" stroke="#6a3d9a" stroke-width="0.9"/>
<line x1="137.04" y1="593.84" x2="137.04" y2="598.86" stroke="#6a3d9a" stroke-width="0.9"/>
<line x1="134.84" y1="593.84" x2="139.24" y2="593.84" stroke="#6a3d9a" stroke-width="0.9"/>
<line x1="134.84" y1="598.86" x2="139.24" y2="598.86" stroke="#6a3d9a" stroke-width="0.9"/>
<line x1="142.12" y1="592.58" x2="142.12" y2="597.61" stroke="#6a3d9a" stroke-width="0.9"/>
<line x1="139.92" y1="592.58" x2="144.32" y2="592.58" stroke="#6a3d9a" stroke-width="0.9"/>
<line x1="139.92" y1="597.61" x2="144.32" y2="597.61" stroke="#6a3d9a" stroke-width="0.9"/>
<line x1="147.2" y1="591.33" x2="147.2" y2="596.35" stroke="#6a3d9a" stroke-width="0.9"/>
<line x1="145" y1="591.33" x2="149.4" y2="591.33" stroke="#6a3d9a" stroke-width="0.9"/>
<line x1="145" y1="596.35" x2="149.4" y2="596.35" stroke="#6a3d9a" stroke-width="0.9"/>
<line x1="152.28" y1="592.9" x2="152.28" y2="597.92" stroke="#6a3d9a" stroke-width="0.9"/>
<line x1="150.08" y1="592.9" x2="154.48" y2="592.9" stroke="#6a3d9a" stroke-width="0.9"/>
<line x1="150.08" y1="597.92" x2="154.48" y2="597.92" stroke="#6a3d9a" stroke-width="0.9"/>
<polygon points="45.6,608.45 43.62,604.86 47.58,604.86" fill="#6a3d9a"/>
<polygon points="50.68,611.59 48.7,608 52.66,608" fill="#6a3d9a"/>
<polygon points="55.76,613.16 53.78,609.57 57.74,609.57" fill="#6a3d9a"/>
<polygon points="60.84,616.3 58.86,612.71 62.82,612.71" fill="#6a3d9a"/>
<polygon points="65.92,613.16 63.94,609.57 67.9,609.57" fill="#6a3d9a"/>
<polygon points="71,609.39 69.02,605.8 72.98,605.8" fill="#6a3d9a"/>
<polygon points="76.08,606.88 74.1,603.29 78.06,603.29" fill="#6a3d9a"/>
<polygon points="81.16,602.8 79.18,599.21 83.14,599.21" fill="#6a3d9a"/>
<polygon points="86.24,598.09 84.26,594.5 88.22,594.5" fill="#6a3d9a"/>
<polygon points="91.32,595.89 89.34,592.3 93.3,592.3" fill="#6a3d9a"/>
<polygon points="96.4,600.6 94.42,597.01 98.38,597.01" fill="#6a3d9a"/>
<polygon points="101.48,603.74 99.5,600.15 103.46,600.15" fill="#6a3d9a"/>
<polygon points="106.56,602.8 104.58,599.21 108.54,599.21" fill="#6a3d9a"/>
<polygon points="111.64,601.86 109.66,598.27 113.62,598.27" fill="#6a3d9a"/>
<polygon points="116.72,604.68 114.74,601.09 118.7,601.09" fill="#6a3d9a"/>
<polygon points="121.8,602.8 119.82,599.21 123.78,599.21" fill="#6a3d9a"/>
<polygon points="126.88,601.23 124.9,597.64 128.86,597.64" fill="#6a3d9a"/>
<polygon points="131.96,599.66 129.98,596.07 133.94,596.07" fill="#6a3d9a"/>
<polygon points="137.04,598.4 135.06,594.81 139.02,594.81" fill="#6a3d9a"/>
<polygon points="142.12,597.15 140.14,593.56 144.1,593.56" fill="#6a3d9a"/>
<polygon points="147.2,595.89 145.22,592.3 149.18,592.3" fill="#6a3d9a"/>
<polygon points="152.28,597.46 150.3,593.87 154.26,593.87" fill="#6a3d9a"/>
<polygon points="157.36,596.52 155.38,592.93 159.34,592.93" fill="#6a3d9a"/>
<polygon points="162.44,594.32 160.46,590.73 164.42,590.73" fill="#6a3d9a"/>
<polygon points="167.52,593.38 165.54,589.79 169.5,589.79" fill="#6a3d9a"/>
<polygon points="172.6,592.12 170.62,588.53 174.58,588.53" fill="#6a3d9a"/>
<polygon points="177.68,590.24 175.7,586.65 179.66,586.65" fill="#6a3d9a"/>
<polygon points="182.76,589.61 180.78,586.02 184.74,586.02" fill="#6a3d9a"/>
<polygon points="187.84,589.61 185.86,586.02 189.82,586.02" fill="#6a3d9a"/>
<polyline points="45.6,606.4 50.68,609.54 55.76,612.05 60.84,613.94 65.92,612.05 71,607.97 76.08,607.66 81.16,603.26 86.24,602.63 91.32,601.69 96.4,597.92 101.48,597.92 106.56,599.49 111.64,596.35 116.72,601.69 121.8,598.86 126.88,597.92 131.96,594.15 137.04,591.96 142.12,591.01 147.2,592.58 152.28,594.15 157.36,591.96 162.44,590.7 167.52,588.82 172.6,591.01 177.68,586.93 182.76,586.3 187.84,586.3" fill="none" stroke="#45ad4e" stroke-width="1" stroke-linejoin="round"/>
<line x1="91.32" y1="598.86" x2="91.32" y2="604.52" stroke="#45ad4e" stroke-width="0.9"/>
<line x1="89.12" y1="598.86" x2="93.52" y2="598.86" stroke="#45ad4e" stroke-width="0.9"/>
<line x1="89.12" y1="604.52" x2="93.52" y2="604.52" stroke="#45ad4e" stroke-width="0.9"/>
<line x1="96.4" y1="595.1" x2="96.4" y2="600.75" stroke="#45ad4e" stroke-width="0.9"/>
<line x1="94.2" y1="595.1" x2="98.6" y2="595.1" stroke="#45ad4e" stroke-width="0.9"/>
<line x1="94.2" y1="600.75" x2="98.6" y2="600.75" stroke="#45ad4e" stroke-width="0.9"/>
<line x1="101.48" y1="595.1" x2="101.48" y2="600.75" stroke="#45ad4e" stroke-width="0.9"/>
<line x1="99.28" y1="595.1" x2="103.68" y2="595.1" stroke="#45ad4e" stroke-width="0.9"/>
<line x1="99.28" y1="600.75" x2="103.68" y2="600.75" stroke="#45ad4e" stroke-width="0.9"/>
<line x1="106.56" y1="596.67" x2="106.56" y2="602.32" stroke="#45ad4e" stroke-width="0.9"/>
<line x1="104.36" y1="596.67" x2="108.76" y2="596.67" stroke="#45ad4e" stroke-width="0.9"/>
<line x1="104.36" y1="602.32" x2="108.76" y2="602.32" stroke="#45ad4e" stroke-width="0.9"/>
<line x1="111.64" y1="593.53" x2="111.64" y2="599.18" stroke="#45ad4e" stroke-width="0.9"/>
<line x1="109.44" y1="593.53" x2="113.84" y2="593.53" stroke="#45ad4e" stroke-width="0.9"/>
<line x1="109.44" y1="599.18" x2="113.84" y2="599.18" stroke="#45ad4e" stroke-width="0.9"/>
<line x1="116.72" y1="598.86" x2="116.72" y2="604.52" stroke="#45ad4e" stroke-width="0.9"/>
<line x1="114.52" y1="598.86" x2="118.92" y2="598.86" stroke="#45ad4e" stroke-width="0.9"/>
<line x1="114.52" y1="604.52" x2="118.92" y2="604.52" stroke="#45ad4e" stroke-width="0.9"/>
<line x1="121.8" y1="596.04" x2="121.8" y2="601.69" stroke="#45ad4e" stroke-width="0.9"/>
<line x1="119.6" y1="596.04" x2="124" y2="596.04" stroke="#45ad4e" stroke-width="0.9"/>
<line x1="119.6" y1="601.69" x2="124" y2="601.69" stroke="#45ad4e" stroke-width="0.9"/>
<line x1="126.88" y1="595.1" x2="126.88" y2="600.75" stroke="#45ad4e" stroke-width="0.9"/>
<line x1="124.68" y1="595.1" x2="129.08" y2="595.1" stroke="#45ad4e" stroke-width="0.9"/>
<line x1="124.68" y1="600.75" x2="129.08" y2="600.75" stroke="#45ad4e" stroke-width="0.9"/>
<line x1="131.96" y1="591.33" x2="131.96" y2="596.98" stroke="#45ad4e" stroke-width="0.9"/>
<line x1="129.76" y1="591.33" x2="134.16" y2="591.33" stroke="#45ad4e" stroke-width="0.9"/>
<line x1="129.76" y1="596.98" x2="134.16" y2="596.98" stroke="#45ad4e" stroke-width="0.9"/>
<line x1="137.04" y1="589.13" x2="137.04" y2="594.78" stroke="#45ad4e" stroke-width="0.9"/>
<line x1="134.84" y1="589.13" x2="139.24" y2="589.13" stroke="#45ad4e" stroke-width="0.9"/>
<line x1="134.84" y1="594.78" x2="139.24" y2="594.78" stroke="#45ad4e" stroke-width="0.9"/>
<line x1="142.12" y1="588.19" x2="142.12" y2="593.84" stroke="#45ad4e" stroke-width="0.9"/>
<line x1="139.92" y1="588.19" x2="144.32" y2="588.19" stroke="#45ad4e" stroke-width="0.9"/>
<line x1="139.92" y1="593.84" x2="144.32" y2="593.84" stroke="#45ad4e" stroke-width="0.9"/>
<line x1="147.2" y1="589.76" x2="147.2" y2="595.41" stroke="#45ad4e" stroke-width="0.9"/>
<line x1="145" y1="589.76" x2="149.4" y2="589.76" stroke="#45ad4e" stroke-width="0.9"/>
<line x1="145" y1="595.41" x2="149.4" y2="595.41" stroke="#45ad4e" stroke-width="0.9"/>
<line x1="152.28" y1="591.33" x2="152.28" y2="596.98" stroke="#45ad4e" stroke-width="0.9"/>
<line x1="150.08" y1="591.33" x2="154.48" y2="591.33" stroke="#45ad4e" stroke-width="0.9"/>
<line x1="150.08" y1="596.98" x2="154.48" y2="596.98" stroke="#45ad4e" stroke-width="0.9"/>
<line x1="157.36" y1="589.13" x2="157.36" y2="594.78" stroke="#45ad4e" stroke-width="0.9"/>
<line x1="155.16" y1="589.13" x2="159.56" y2="589.13" stroke="#45ad4e" stroke-width="0.9"/>
<line x1="155.16" y1="594.78" x2="159.56" y2="594.78" stroke="#45ad4e" stroke-width="0.9"/>
<line x1="162.44" y1="587.87" x2="162.44" y2="593.53" stroke="#45ad4e" stroke-width="0.9"/>
<line x1="160.24" y1="587.87" x2="164.64" y2="587.87" stroke="#45ad4e" stroke-width="0.9"/>
<line x1="160.24" y1="593.53" x2="164.64" y2="593.53" stroke="#45ad4e" stroke-width="0.9"/>
<line x1="167.52" y1="585.99" x2="167.52" y2="591.64" stroke="#45ad4e" stroke-width="0.9"/>
<line x1="165.32" y1="585.99" x2="169.72" y2="585.99" stroke="#45ad4e" stroke-width="0.9"/>
<line x1="165.32" y1="591.64" x2="169.72" y2="591.64" stroke="#45ad4e" stroke-width="0.9"/>
<line x1="172.6" y1="588.19" x2="172.6" y2="593.84" stroke="#45ad4e" stroke-width="0.9"/>
<line x1="170.4" y1="588.19" x2="174.8" y2="588.19" stroke="#45ad4e" stroke-width="0.9"/>
<line x1="170.4" y1="593.84" x2="174.8" y2="593.84" stroke="#45ad4e" stroke-width="0.9"/>
<line x1="177.68" y1="584.11" x2="177.68" y2="589.76" stroke="#45ad4e" stroke-width="0.9"/>
<line x1="175.48" y1="584.11" x2="179.88" y2="584.11" stroke="#45ad4e" stroke-width="0.9"/>
<line x1="175.48" y1="589.76" x2="179.88" y2="589.76" stroke="#45ad4e" stroke-width="0.9"/>
<line x1="182.76" y1="583.48" x2="182.76" y2="589.13" stroke="#45ad4e" stroke-width="0.9"/>
<line x1="180.56" y1="583.48" x2="184.96" y2="583.48" stroke="#45ad4e" stroke-width="0.9"/>
<line x1="180.56" y1="589.13" x2="184.96" y2="589.13" stroke="#45ad4e" stroke-width="0.9"/>
<line x1="187.84" y1="583.48" x2="187.84" y2="589.13" stroke="#45ad4e" stroke-width="0.9"/>
<line x1="185.64" y1="583.48" x2="190.04" y2="583.48" stroke="#45ad4e" stroke-width="0.9"/>
<line x1="185.64" y1="589.13" x2="190.04" y2="589.13" stroke="#45ad4e" stroke-width="0.9"/>
<polygon points="45.6,604.35 43.62,607.94 47.58,607.94" fill="#45ad4e"/>
<polygon points="50.68,607.49 48.7,611.08 52.66,611.08" fill="#45ad4e"/>
<polygon points="55.76,610 53.78,613.59 57.74,613.59" fill="#45ad4e"/>
<polygon points="60.84,611.88 58.86,615.47 62.82,615.47" fill="#45ad4e"/>
<polygon points="65.92,610 63.94,613.59 67.9,613.59" fill="#45ad4e"/>
<polygon points="71,605.92 69.02,609.51 72.98,609.51" fill="#45ad4e"/>
<polygon points="76.08,605.6 74.1,609.19 78.06,609.19" fill="#45ad4e"/>
<polygon points="81.16,601.21 79.18,604.8 83.14,604.8" fill="#45ad4e"/>
<polygon points="86.24,600.58 84.26,604.17 88.22,604.17" fill="#45ad4e"/>
<polygon points="91.32,599.64 89.34,603.23 93.3,603.23" fill="#45ad4e"/>
<polygon points="96.4,595.87 94.42,599.46 98.38,599.46" fill="#45ad4e"/>
<polygon points="101.48,595.87 99.5,599.46 103.46,599.46" fill="#45ad4e"/>
<polygon points="106.56,597.44 104.58,601.03 108.54,601.03" fill="#45ad4e"/>
<polygon points="111.64,594.3 109.66,597.89 113.62,597.89" fill="#45ad4e"/>
<polygon points="116.72,599.64 114.74,603.23 118.7,603.23" fill="#45ad4e"/>
<polygon points="121.8,596.81 119.82,600.4 123.78,600.4" fill="#45ad4e"/>
<polygon points="126.88,595.87 124.9,599.46 128.86,599.46" fill="#45ad4e"/>
<polygon points="131.96,592.1 129.98,595.69 133.94,595.69" fill="#45ad4e"/>
<polygon points="137.04,589.9 135.06,593.5 139.02,593.5" fill="#45ad4e"/>
<polygon points="142.12,588.96 140.14,592.55 144.1,592.55" fill="#45ad4e"/>
<polygon points="147.2,590.53 145.22,594.12 149.18,594.12" fill="#45ad4e"/>
<polygon points="152.28,592.1 150.3,595.69 154.26,595.69" fill="#45ad4e"/>
<polygon points="157.36,589.9 155.38,593.5 159.34,593.5" fill="#45ad4e"/>
<polygon points="162.44,588.65 160.46,592.24 164.42,592.24" fill="#45ad4e"/>
<polygon points="167.52,586.76 165.54,590.36 169.5,590.36" fill="#45ad4e"/>
<polygon points="172.6,588.96 170.62,592.55 174.58,592.55" fill="#45ad4e"/>
<polygon points="177.68,584.88 175.7,588.47 179.66,588.47" fill="#45ad4e"/>
<polygon points="182.76,584.25 180.78,587.84 184.74,587.84" fill="#45ad4e"/>
<polygon points="187.84,584.25 185.86,587.84 189.82,587.84" fill="#45ad4e"/>
<polyline points="45.6,606.4 50.68,609.23 55.76,611.11 60.84,616.13 65.92,614.56 71,612.68 76.08,611.11 81.16,605.77 86.24,604.83 91.32,606.4 96.4,604.83 101.48,604.52 106.56,603.26 111.64,602.63 116.72,603.26 121.8,602.95 126.88,600.12 131.96,597.92 137.04,595.72 142.12,593.53 147.2,594.78 152.28,597.92 157.36,597.92 162.44,593.21 167.52,596.98 172.6,597.29 177.68,602 182.76,600.43 187.84,600.43" fill="none" stroke="#e0232f" stroke-width="1" stroke-linejoin="round"/>
<line x1="50.68" y1="606.09" x2="50.68" y2="612.37" stroke="#e0232f" stroke-width="0.9"/>
<line x1="48.48" y1="606.09" x2="52.88" y2="606.09" stroke="#e0232f" stroke-width="0.9"/>
<line x1="48.48" y1="612.37" x2="52.88" y2="612.37" stroke="#e0232f" stroke-width="0.9"/>
<line x1="55.76" y1="607.97" x2="55.76" y2="614.25" stroke="#e0232f" stroke-width="0.9"/>
<line x1="53.56" y1="607.97" x2="57.96" y2="607.97" stroke="#e0232f" stroke-width="0.9"/>
<line x1="53.56" y1="614.25" x2="57.96" y2="614.25" stroke="#e0232f" stroke-width="0.9"/>
<line x1="60.84" y1="612.99" x2="60.84" y2="619.27" stroke="#e0232f" stroke-width="0.9"/>
<line x1="58.64" y1="612.99" x2="63.04" y2="612.99" stroke="#e0232f" stroke-width="0.9"/>
<line x1="58.64" y1="619.27" x2="63.04" y2="619.27" stroke="#e0232f" stroke-width="0.9"/>
<line x1="65.92" y1="611.42" x2="65.92" y2="617.7" stroke="#e0232f" stroke-width="0.9"/>
<line x1="63.72" y1="611.42" x2="68.12" y2="611.42" stroke="#e0232f" stroke-width="0.9"/>
<line x1="63.72" y1="617.7" x2="68.12" y2="617.7" stroke="#e0232f" stroke-width="0.9"/>
<line x1="71" y1="609.54" x2="71" y2="615.82" stroke="#e0232f" stroke-width="0.9"/>
<line x1="68.8" y1="609.54" x2="73.2" y2="609.54" stroke="#e0232f" stroke-width="0.9"/>
<line x1="68.8" y1="615.82" x2="73.2" y2="615.82" stroke="#e0232f" stroke-width="0.9"/>
<line x1="76.08" y1="607.97" x2="76.08" y2="614.25" stroke="#e0232f" stroke-width="0.9"/>
<line x1="73.88" y1="607.97" x2="78.28" y2="607.97" stroke="#e0232f" stroke-width="0.9"/>
<line x1="73.88" y1="614.25" x2="78.28" y2="614.25" stroke="#e0232f" stroke-width="0.9"/>
<line x1="81.16" y1="602.63" x2="81.16" y2="608.91" stroke="#e0232f" stroke-width="0.9"/>
<line x1="78.96" y1="602.63" x2="83.36" y2="602.63" stroke="#e0232f" stroke-width="0.9"/>
<line x1="78.96" y1="608.91" x2="83.36" y2="608.91" stroke="#e0232f" stroke-width="0.9"/>
<line x1="86.24" y1="601.69" x2="86.24" y2="607.97" stroke="#e0232f" stroke-width="0.9"/>
<line x1="84.04" y1="601.69" x2="88.44" y2="601.69" stroke="#e0232f" stroke-width="0.9"/>
<line x1="84.04" y1="607.97" x2="88.44" y2="607.97" stroke="#e0232f" stroke-width="0.9"/>
<line x1="91.32" y1="603.26" x2="91.32" y2="609.54" stroke="#e0232f" stroke-width="0.9"/>
<line x1="89.12" y1="603.26" x2="93.52" y2="603.26" stroke="#e0232f" stroke-width="0.9"/>
<line x1="89.12" y1="609.54" x2="93.52" y2="609.54" stroke="#e0232f" stroke-width="0.9"/>
<line x1="96.4" y1="601.69" x2="96.4" y2="607.97" stroke="#e0232f" stroke-width="0.9"/>
<line x1="94.2" y1="601.69" x2="98.6" y2="601.69" stroke="#e0232f" stroke-width="0.9"/>
<line x1="94.2" y1="607.97" x2="98.6" y2="607.97" stroke="#e0232f" stroke-width="0.9"/>
<line x1="101.48" y1="601.38" x2="101.48" y2="607.66" stroke="#e0232f" stroke-width="0.9"/>
<line x1="99.28" y1="601.38" x2="103.68" y2="601.38" stroke="#e0232f" stroke-width="0.9"/>
<line x1="99.28" y1="607.66" x2="103.68" y2="607.66" stroke="#e0232f" stroke-width="0.9"/>
<line x1="106.56" y1="600.12" x2="106.56" y2="606.4" stroke="#e0232f" stroke-width="0.9"/>
<line x1="104.36" y1="600.12" x2="108.76" y2="600.12" stroke="#e0232f" stroke-width="0.9"/>
<line x1="104.36" y1="606.4" x2="108.76" y2="606.4" stroke="#e0232f" stroke-width="0.9"/>
<line x1="111.64" y1="599.49" x2="111.64" y2="605.77" stroke="#e0232f" stroke-width="0.9"/>
<line x1="109.44" y1="599.49" x2="113.84" y2="599.49" stroke="#e0232f" stroke-width="0.9"/>
<line x1="109.44" y1="605.77" x2="113.84" y2="605.77" stroke="#e0232f" stroke-width="0.9"/>
<line x1="116.72" y1="598.24" x2="116.72" y2="608.28" stroke="#e0232f" stroke-width="0.9"/>
<line x1="114.52" y1="598.24" x2="118.92" y2="598.24" stroke="#e0232f" stroke-width="0.9"/>
<line x1="114.52" y1="608.28" x2="118.92" y2="608.28" stroke="#e0232f" stroke-width="0.9"/>
<line x1="121.8" y1="597.92" x2="121.8" y2="607.97" stroke="#e0232f" stroke-width="0.9"/>
<line x1="119.6" y1="597.92" x2="124" y2="597.92" stroke="#e0232f" stroke-width="0.9"/>
<line x1="119.6" y1="607.97" x2="124" y2="607.97" stroke="#e0232f" stroke-width="0.9"/>
<line x1="126.88" y1="595.1" x2="126.88" y2="605.14" stroke="#e0232f" stroke-width="0.9"/>
<line x1="124.68" y1="595.1" x2="129.08" y2="595.1" stroke="#e0232f" stroke-width="0.9"/>
<line x1="124.68" y1="605.14" x2="129.08" y2="605.14" stroke="#e0232f" stroke-width="0.9"/>
<line x1="131.96" y1="592.9" x2="131.96" y2="602.95" stroke="#e0232f" stroke-width="0.9"/>
<line x1="129.76" y1="592.9" x2="134.16" y2="592.9" stroke="#e0232f" stroke-width="0.9"/>
<line x1="129.76" y1="602.95" x2="134.16" y2="602.95" stroke="#e0232f" stroke-width="0.9"/>
<line x1="137.04" y1="590.7" x2="137.04" y2="600.75" stroke="#e0232f" stroke-width="0.9"/>
<line x1="134.84" y1="590.7" x2="139.24" y2="590.7" stroke="#e0232f" stroke-width="0.9"/>
<line x1="134.84" y1="600.75" x2="139.24" y2="600.75" stroke="#e0232f" stroke-width="0.9"/>
<line x1="142.12" y1="588.5" x2="142.12" y2="598.55" stroke="#e0232f" stroke-width="0.9"/>
<line x1="139.92" y1="588.5" x2="144.32" y2="588.5" stroke="#e0232f" stroke-width="0.9"/>
<line x1="139.92" y1="598.55" x2="144.32" y2="598.55" stroke="#e0232f" stroke-width="0.9"/>
<line x1="147.2" y1="589.76" x2="147.2" y2="599.81" stroke="#e0232f" stroke-width="0.9"/>
<line x1="145" y1="589.76" x2="149.4" y2="589.76" stroke="#e0232f" stroke-width="0.9"/>
<line x1="145" y1="599.81" x2="149.4" y2="599.81" stroke="#e0232f" stroke-width="0.9"/>
<line x1="152.28" y1="592.9" x2="152.28" y2="602.95" stroke="#e0232f" stroke-width="0.9"/>
<line x1="150.08" y1="592.9" x2="154.48" y2="592.9" stroke="#e0232f" stroke-width="0.9"/>
<line x1="150.08" y1="602.95" x2="154.48" y2="602.95" stroke="#e0232f" stroke-width="0.9"/>
<line x1="157.36" y1="592.9" x2="157.36" y2="602.95" stroke="#e0232f" stroke-width="0.9"/>
<line x1="155.16" y1="592.9" x2="159.56" y2="592.9" stroke="#e0232f" stroke-width="0.9"/>
<line x1="155.16" y1="602.95" x2="159.56" y2="602.95" stroke="#e0232f" stroke-width="0.9"/>
<line x1="162.44" y1="588.19" x2="162.44" y2="598.24" stroke="#e0232f" stroke-width="0.9"/>
<line x1="160.24" y1="588.19" x2="164.64" y2="588.19" stroke="#e0232f" stroke-width="0.9"/>
<line x1="160.24" y1="598.24" x2="164.64" y2="598.24" stroke="#e0232f" stroke-width="0.9"/>
<line x1="167.52" y1="588.82" x2="167.52" y2="605.14" stroke="#e0232f" stroke-width="0.9"/>
<line x1="165.32" y1="588.82" x2="169.72" y2="588.82" stroke="#e0232f" stroke-width="0.9"/>
<line x1="165.32" y1="605.14" x2="169.72" y2="605.14" stroke="#e0232f" stroke-width="0.9"/>
<line x1="172.6" y1="589.13" x2="172.6" y2="605.46" stroke="#e0232f" stroke-width="0.9"/>
<line x1="170.4" y1="589.13" x2="174.8" y2="589.13" stroke="#e0232f" stroke-width="0.9"/>
<line x1="170.4" y1="605.46" x2="174.8" y2="605.46" stroke="#e0232f" stroke-width="0.9"/>
<line x1="177.68" y1="593.84" x2="177.68" y2="610.17" stroke="#e0232f" stroke-width="0.9"/>
<line x1="175.48" y1="593.84" x2="179.88" y2="593.84" stroke="#e0232f" stroke-width="0.9"/>
<line x1="175.48" y1="610.17" x2="179.88" y2="610.17" stroke="#e0232f" stroke-width="0.9"/>
<line x1="182.76" y1="592.27" x2="182.76" y2="608.6" stroke="#e0232f" stroke-width="0.9"/>
<line x1="180.56" y1="592.27" x2="184.96" y2="592.27" stroke="#e0232f" stroke-width="0.9"/>
<line x1="180.56" y1="608.6" x2="184.96" y2="608.6" stroke="#e0232f" stroke-width="0.9"/>
<line x1="187.84" y1="592.27" x2="187.84" y2="608.6" stroke="#e0232f" stroke-width="0.9"/>
<line x1="185.64" y1="592.27" x2="190.04" y2="592.27" stroke="#e0232f" stroke-width="0.9"/>
<line x1="185.64" y1="608.6" x2="190.04" y2="608.6" stroke="#e0232f" stroke-width="0.9"/>
<rect x="43.7" y="604.5" width="3.8" height="3.8" fill="#e0232f"/>
<rect x="48.78" y="607.33" width="3.8" height="3.8" fill="#e0232f"/>
<rect x="53.86" y="609.21" width="3.8" height="3.8" fill="#e0232f"/>
<rect x="58.94" y="614.23" width="3.8" height="3.8" fill="#e0232f"/>
<rect x="64.02" y="612.66" width="3.8" height="3.8" fill="#e0232f"/>
<rect x="69.1" y="610.78" width="3.8" height="3.8" fill="#e0232f"/>
<rect x="74.18" y="609.21" width="3.8" height="3.8" fill="#e0232f"/>
<rect x="79.26" y="603.87" width="3.8" height="3.8" fill="#e0232f"/>
<rect x="84.34" y="602.93" width="3.8" height="3.8" fill="#e0232f"/>
<rect x="89.42" y="604.5" width="3.8" height="3.8" fill="#e0232f"/>
<rect x="94.5" y="602.93" width="3.8" height="3.8" fill="#e0232f"/>
<rect x="99.58" y="602.62" width="3.8" height="3.8" fill="#e0232f"/>
<rect x="104.66" y="601.36" width="3.8" height="3.8" fill="#e0232f"/>
<rect x="109.74" y="600.73" width="3.8" height="3.8" fill="#e0232f"/>
<rect x="114.82" y="601.36" width="3.8" height="3.8" fill="#e0232f"/>
<rect x="119.9" y="601.05" width="3.8" height="3.8" fill="#e0232f"/>
<rect x="124.98" y="598.22" width="3.8" height="3.8" fill="#e0232f"/>
<rect x="130.06" y="596.02" width="3.8" height="3.8" fill="#e0232f"/>
<rect x="135.14" y="593.82" width="3.8" height="3.8" fill="#e0232f"/>
<rect x="140.22" y="591.63" width="3.8" height="3.8" fill="#e0232f"/>
<rect x="145.3" y="592.88" width="3.8" height="3.8" fill="#e0232f"/>
<rect x="150.38" y="596.02" width="3.8" height="3.8" fill="#e0232f"/>
<rect x="155.46" y="596.02" width="3.8" height="3.8" fill="#e0232f"/>
<rect x="160.54" y="591.31" width="3.8" height="3.8" fill="#e0232f"/>
<rect x="165.62" y="595.08" width="3.8" height="3.8" fill="#e0232f"/>
<rect x="170.7" y="595.39" width="3.8" height="3.8" fill="#e0232f"/>
<rect x="175.78" y="600.1" width="3.8" height="3.8" fill="#e0232f"/>
<rect x="180.86" y="598.53" width="3.8" height="3.8" fill="#e0232f"/>
<rect x="185.94" y="598.53" width="3.8" height="3.8" fill="#e0232f"/>
<polyline points="45.6,606.4 50.68,610.48 55.76,609.23 60.84,613.62 65.92,609.85 71,605.14 76.08,605.46 81.16,607.97 86.24,609.23 91.32,609.85 96.4,609.85 101.48,614.25 106.56,615.19 111.64,612.37 116.72,618.33 121.8,617.39 126.88,622.41 131.96,620.84 137.04,622.1 142.12,624.3 147.2,622.1 152.28,629.32 157.36,629.95 162.44,628.38 167.52,628.38 172.6,629.95 177.68,632.78 182.76,632.78 187.84,629.32" fill="none" stroke="#1c4790" stroke-width="1" stroke-linejoin="round"/>
<line x1="86.24" y1="605.46" x2="86.24" y2="612.99" stroke="#1c4790" stroke-width="0.9"/>
<line x1="84.04" y1="605.46" x2="88.44" y2="605.46" stroke="#1c4790" stroke-width="0.9"/>
<line x1="84.04" y1="612.99" x2="88.44" y2="612.99" stroke="#1c4790" stroke-width="0.9"/>
<line x1="91.32" y1="606.09" x2="91.32" y2="613.62" stroke="#1c4790" stroke-width="0.9"/>
<line x1="89.12" y1="606.09" x2="93.52" y2="606.09" stroke="#1c4790" stroke-width="0.9"/>
<line x1="89.12" y1="613.62" x2="93.52" y2="613.62" stroke="#1c4790" stroke-width="0.9"/>
<line x1="96.4" y1="606.09" x2="96.4" y2="613.62" stroke="#1c4790" stroke-width="0.9"/>
<line x1="94.2" y1="606.09" x2="98.6" y2="606.09" stroke="#1c4790" stroke-width="0.9"/>
<line x1="94.2" y1="613.62" x2="98.6" y2="613.62" stroke="#1c4790" stroke-width="0.9"/>
<line x1="101.48" y1="610.48" x2="101.48" y2="618.02" stroke="#1c4790" stroke-width="0.9"/>
<line x1="99.28" y1="610.48" x2="103.68" y2="610.48" stroke="#1c4790" stroke-width="0.9"/>
<line x1="99.28" y1="618.02" x2="103.68" y2="618.02" stroke="#1c4790" stroke-width="0.9"/>
<line x1="106.56" y1="611.42" x2="106.56" y2="618.96" stroke="#1c4790" stroke-width="0.9"/>
<line x1="104.36" y1="611.42" x2="108.76" y2="611.42" stroke="#1c4790" stroke-width="0.9"/>
<line x1="104.36" y1="618.96" x2="108.76" y2="618.96" stroke="#1c4790" stroke-width="0.9"/>
<line x1="111.64" y1="608.6" x2="111.64" y2="616.13" stroke="#1c4790" stroke-width="0.9"/>
<line x1="109.44" y1="608.6" x2="113.84" y2="608.6" stroke="#1c4790" stroke-width="0.9"/>
<line x1="109.44" y1="616.13" x2="113.84" y2="616.13" stroke="#1c4790" stroke-width="0.9"/>
<line x1="116.72" y1="612.68" x2="116.72" y2="623.98" stroke="#1c4790" stroke-width="0.9"/>
<line x1="114.52" y1="612.68" x2="118.92" y2="612.68" stroke="#1c4790" stroke-width="0.9"/>
<line x1="114.52" y1="623.98" x2="118.92" y2="623.98" stroke="#1c4790" stroke-width="0.9"/>
<line x1="121.8" y1="611.74" x2="121.8" y2="623.04" stroke="#1c4790" stroke-width="0.9"/>
<line x1="119.6" y1="611.74" x2="124" y2="611.74" stroke="#1c4790" stroke-width="0.9"/>
<line x1="119.6" y1="623.04" x2="124" y2="623.04" stroke="#1c4790" stroke-width="0.9"/>
<line x1="126.88" y1="616.76" x2="126.88" y2="628.07" stroke="#1c4790" stroke-width="0.9"/>
<line x1="124.68" y1="616.76" x2="129.08" y2="616.76" stroke="#1c4790" stroke-width="0.9"/>
<line x1="124.68" y1="628.07" x2="129.08" y2="628.07" stroke="#1c4790" stroke-width="0.9"/>
<line x1="131.96" y1="615.19" x2="131.96" y2="626.5" stroke="#1c4790" stroke-width="0.9"/>
<line x1="129.76" y1="615.19" x2="134.16" y2="615.19" stroke="#1c4790" stroke-width="0.9"/>
<line x1="129.76" y1="626.5" x2="134.16" y2="626.5" stroke="#1c4790" stroke-width="0.9"/>
<line x1="137.04" y1="616.45" x2="137.04" y2="627.75" stroke="#1c4790" stroke-width="0.9"/>
<line x1="134.84" y1="616.45" x2="139.24" y2="616.45" stroke="#1c4790" stroke-width="0.9"/>
<line x1="134.84" y1="627.75" x2="139.24" y2="627.75" stroke="#1c4790" stroke-width="0.9"/>
<line x1="142.12" y1="618.65" x2="142.12" y2="629.95" stroke="#1c4790" stroke-width="0.9"/>
<line x1="139.92" y1="618.65" x2="144.32" y2="618.65" stroke="#1c4790" stroke-width="0.9"/>
<line x1="139.92" y1="629.95" x2="144.32" y2="629.95" stroke="#1c4790" stroke-width="0.9"/>
<line x1="147.2" y1="616.45" x2="147.2" y2="627.75" stroke="#1c4790" stroke-width="0.9"/>
<line x1="145" y1="616.45" x2="149.4" y2="616.45" stroke="#1c4790" stroke-width="0.9"/>
<line x1="145" y1="627.75" x2="149.4" y2="627.75" stroke="#1c4790" stroke-width="0.9"/>
<line x1="152.28" y1="620.53" x2="152.28" y2="638.11" stroke="#1c4790" stroke-width="0.9"/>
<line x1="150.08" y1="620.53" x2="154.48" y2="620.53" stroke="#1c4790" stroke-width="0.9"/>
<line x1="150.08" y1="638.11" x2="154.48" y2="638.11" stroke="#1c4790" stroke-width="0.9"/>
<line x1="157.36" y1="621.16" x2="157.36" y2="638.74" stroke="#1c4790" stroke-width="0.9"/>
<line x1="155.16" y1="621.16" x2="159.56" y2="621.16" stroke="#1c4790" stroke-width="0.9"/>
<line x1="155.16" y1="638.74" x2="159.56" y2="638.74" stroke="#1c4790" stroke-width="0.9"/>
<line x1="162.44" y1="619.59" x2="162.44" y2="637.17" stroke="#1c4790" stroke-width="0.9"/>
<line x1="160.24" y1="619.59" x2="164.64" y2="619.59" stroke="#1c4790" stroke-width="0.9"/>
<line x1="160.24" y1="637.17" x2="164.64" y2="637.17" stroke="#1c4790" stroke-width="0.9"/>
<line x1="167.52" y1="619.59" x2="167.52" y2="637.17" stroke="#1c4790" stroke-width="0.9"/>
<line x1="165.32" y1="619.59" x2="169.72" y2="619.59" stroke="#1c4790" stroke-width="0.9"/>
<line x1="165.32" y1="637.17" x2="169.72" y2="637.17" stroke="#1c4790" stroke-width="0.9"/>
<line x1="172.6" y1="621.16" x2="172.6" y2="638.74" stroke="#1c4790" stroke-width="0.9"/>
<line x1="170.4" y1="621.16" x2="174.8" y2="621.16" stroke="#1c4790" stroke-width="0.9"/>
<line x1="170.4" y1="638.74" x2="174.8" y2="638.74" stroke="#1c4790" stroke-width="0.9"/>
<line x1="177.68" y1="623.98" x2="177.68" y2="641.57" stroke="#1c4790" stroke-width="0.9"/>
<line x1="175.48" y1="623.98" x2="179.88" y2="623.98" stroke="#1c4790" stroke-width="0.9"/>
<line x1="175.48" y1="641.57" x2="179.88" y2="641.57" stroke="#1c4790" stroke-width="0.9"/>
<line x1="182.76" y1="623.98" x2="182.76" y2="641.57" stroke="#1c4790" stroke-width="0.9"/>
<line x1="180.56" y1="623.98" x2="184.96" y2="623.98" stroke="#1c4790" stroke-width="0.9"/>
<line x1="180.56" y1="641.57" x2="184.96" y2="641.57" stroke="#1c4790" stroke-width="0.9"/>
<line x1="187.84" y1="620.53" x2="187.84" y2="638.11" stroke="#1c4790" stroke-width="0.9"/>
<line x1="185.64" y1="620.53" x2="190.04" y2="620.53" stroke="#1c4790" stroke-width="0.9"/>
<line x1="185.64" y1="638.11" x2="190.04" y2="638.11" stroke="#1c4790" stroke-width="0.9"/>
<circle cx="45.6" cy="606.4" r="2" fill="#1c4790"/>
<circle cx="50.68" cy="610.48" r="2" fill="#1c4790"/>
<circle cx="55.76" cy="609.23" r="2" fill="#1c4790"/>
<circle cx="60.84" cy="613.62" r="2" fill="#1c4790"/>
<circle cx="65.92" cy="609.85" r="2" fill="#1c4790"/>
<circle cx="71" cy="605.14" r="2" fill="#1c4790"/>
<circle cx="76.08" cy="605.46" r="2" fill="#1c4790"/>
<circle cx="81.16" cy="607.97" r="2" fill="#1c4790"/>
<circle cx="86.24" cy="609.23" r="2" fill="#1c4790"/>
<circle cx="91.32" cy="609.85" r="2" fill="#1c4790"/>
<circle cx="96.4" cy="609.85" r="2" fill="#1c4790"/>
<circle cx="101.48" cy="614.25" r="2" fill="#1c4790"/>
<circle cx="106.56" cy="615.19" r="2" fill="#1c4790"/>
<circle cx="111.64" cy="612.37" r="2" fill="#1c4790"/>
<circle cx="116.72" cy="618.33" r="2" fill="#1c4790"/>
<circle cx="121.8" cy="617.39" r="2" fill="#1c4790"/>
<circle cx="126.88" cy="622.41" r="2" fill="#1c4790"/>
<circle cx="131.96" cy="620.84" r="2" fill="#1c4790"/>
<circle cx="137.04" cy="622.1" r="2" fill="#1c4790"/>
<circle cx="142.12" cy="624.3" r="2" fill="#1c4790"/>
<circle cx="147.2" cy="622.1" r="2" fill="#1c4790"/>
<circle cx="152.28" cy="629.32" r="2" fill="#1c4790"/>
<circle cx="157.36" cy="629.95" r="2" fill="#1c4790"/>
<circle cx="162.44" cy="628.38" r="2" fill="#1c4790"/>
<circle cx="167.52" cy="628.38" r="2" fill="#1c4790"/>
<circle cx="172.6" cy="629.95" r="2" fill="#1c4790"/>
<circle cx="177.68" cy="632.78" r="2" fill="#1c4790"/>
<circle cx="182.76" cy="632.78" r="2" fill="#1c4790"/>
<circle cx="187.84" cy="629.32" r="2" fill="#1c4790"/>
<line x1="287.9" y1="575.4" x2="287.9" y2="655.4" stroke="#2b2b2b" stroke-width="1"/>
<line x1="283.9" y1="575.4" x2="287.9" y2="575.4" stroke="#2b2b2b" stroke-width="1"/>
<text x="282.1" y="578.1" font-size="7.7" text-anchor="end">15</text>
<line x1="283.9" y1="595.4" x2="287.9" y2="595.4" stroke="#2b2b2b" stroke-width="1"/>
<text x="282.1" y="598.1" font-size="7.7" text-anchor="end">10</text>
<line x1="283.9" y1="615.4" x2="287.9" y2="615.4" stroke="#2b2b2b" stroke-width="1"/>
<text x="282.1" y="618.1" font-size="7.7" text-anchor="end">5</text>
<line x1="283.9" y1="635.4" x2="287.9" y2="635.4" stroke="#2b2b2b" stroke-width="1"/>
<text x="282.1" y="638.1" font-size="7.7" text-anchor="end">0</text>
<line x1="283.9" y1="655.4" x2="287.9" y2="655.4" stroke="#2b2b2b" stroke-width="1"/>
<text x="282.1" y="658.1" font-size="7.7" text-anchor="end">−5</text>
<line x1="287.9" y1="635.4" x2="462.1" y2="635.4" stroke="#2b2b2b" stroke-width="1"/>
<line x1="328.1" y1="635.4" x2="328.1" y2="638.4" stroke="#2b2b2b" stroke-width="1"/>
<text x="328.1" y="648.7" font-size="8.45" text-anchor="middle">10</text>
<line x1="395.1" y1="635.4" x2="395.1" y2="638.4" stroke="#2b2b2b" stroke-width="1"/>
<text x="395.1" y="648.7" font-size="8.45" text-anchor="middle">15</text>
<line x1="462.1" y1="635.4" x2="462.1" y2="638.4" stroke="#2b2b2b" stroke-width="1"/>
<text x="462.1" y="648.7" font-size="8.45" text-anchor="middle">20</text>
<text x="376.3" y="660.8" font-size="9.2" text-anchor="middle">Days after inoculation</text>
<text x="266.2" y="613.8" font-size="9.3" text-anchor="middle" transform="rotate(-90 266.2 613.8)">Body weight change (%)</text>
<polyline points="287.9,635.4 301.3,625.4 314.7,621.8 328.1,622.6 341.5,617 354.9,609.8 368.3,619.8 381.7,621.8 395.1,623 408.5,623 421.9,623" fill="none" stroke="#6a3d9a" stroke-width="1" stroke-linejoin="round"/>
<line x1="301.3" y1="621.4" x2="301.3" y2="629.4" stroke="#6a3d9a" stroke-width="0.9"/>
<line x1="299.1" y1="621.4" x2="303.5" y2="621.4" stroke="#6a3d9a" stroke-width="0.9"/>
<line x1="299.1" y1="629.4" x2="303.5" y2="629.4" stroke="#6a3d9a" stroke-width="0.9"/>
<line x1="314.7" y1="617.8" x2="314.7" y2="625.8" stroke="#6a3d9a" stroke-width="0.9"/>
<line x1="312.5" y1="617.8" x2="316.9" y2="617.8" stroke="#6a3d9a" stroke-width="0.9"/>
<line x1="312.5" y1="625.8" x2="316.9" y2="625.8" stroke="#6a3d9a" stroke-width="0.9"/>
<line x1="328.1" y1="618.6" x2="328.1" y2="626.6" stroke="#6a3d9a" stroke-width="0.9"/>
<line x1="325.9" y1="618.6" x2="330.3" y2="618.6" stroke="#6a3d9a" stroke-width="0.9"/>
<line x1="325.9" y1="626.6" x2="330.3" y2="626.6" stroke="#6a3d9a" stroke-width="0.9"/>
<line x1="341.5" y1="613" x2="341.5" y2="621" stroke="#6a3d9a" stroke-width="0.9"/>
<line x1="339.3" y1="613" x2="343.7" y2="613" stroke="#6a3d9a" stroke-width="0.9"/>
<line x1="339.3" y1="621" x2="343.7" y2="621" stroke="#6a3d9a" stroke-width="0.9"/>
<line x1="354.9" y1="605.8" x2="354.9" y2="613.8" stroke="#6a3d9a" stroke-width="0.9"/>
<line x1="352.7" y1="605.8" x2="357.1" y2="605.8" stroke="#6a3d9a" stroke-width="0.9"/>
<line x1="352.7" y1="613.8" x2="357.1" y2="613.8" stroke="#6a3d9a" stroke-width="0.9"/>
<line x1="368.3" y1="615.8" x2="368.3" y2="623.8" stroke="#6a3d9a" stroke-width="0.9"/>
<line x1="366.1" y1="615.8" x2="370.5" y2="615.8" stroke="#6a3d9a" stroke-width="0.9"/>
<line x1="366.1" y1="623.8" x2="370.5" y2="623.8" stroke="#6a3d9a" stroke-width="0.9"/>
<line x1="381.7" y1="617.8" x2="381.7" y2="625.8" stroke="#6a3d9a" stroke-width="0.9"/>
<line x1="379.5" y1="617.8" x2="383.9" y2="617.8" stroke="#6a3d9a" stroke-width="0.9"/>
<line x1="379.5" y1="625.8" x2="383.9" y2="625.8" stroke="#6a3d9a" stroke-width="0.9"/>
<line x1="395.1" y1="619" x2="395.1" y2="627" stroke="#6a3d9a" stroke-width="0.9"/>
<line x1="392.9" y1="619" x2="397.3" y2="619" stroke="#6a3d9a" stroke-width="0.9"/>
<line x1="392.9" y1="627" x2="397.3" y2="627" stroke="#6a3d9a" stroke-width="0.9"/>
<line x1="408.5" y1="619" x2="408.5" y2="627" stroke="#6a3d9a" stroke-width="0.9"/>
<line x1="406.3" y1="619" x2="410.7" y2="619" stroke="#6a3d9a" stroke-width="0.9"/>
<line x1="406.3" y1="627" x2="410.7" y2="627" stroke="#6a3d9a" stroke-width="0.9"/>
<line x1="421.9" y1="619" x2="421.9" y2="627" stroke="#6a3d9a" stroke-width="0.9"/>
<line x1="419.7" y1="619" x2="424.1" y2="619" stroke="#6a3d9a" stroke-width="0.9"/>
<line x1="419.7" y1="627" x2="424.1" y2="627" stroke="#6a3d9a" stroke-width="0.9"/>
<polygon points="287.9,637.57 285.81,633.78 289.99,633.78" fill="#6a3d9a"/>
<polygon points="301.3,627.57 299.21,623.78 303.39,623.78" fill="#6a3d9a"/>
<polygon points="314.7,623.97 312.61,620.18 316.79,620.18" fill="#6a3d9a"/>
<polygon points="328.1,624.77 326.01,620.98 330.19,620.98" fill="#6a3d9a"/>
<polygon points="341.5,619.17 339.41,615.38 343.59,615.38" fill="#6a3d9a"/>
<polygon points="354.9,611.97 352.81,608.18 356.99,608.18" fill="#6a3d9a"/>
<polygon points="368.3,621.97 366.21,618.18 370.39,618.18" fill="#6a3d9a"/>
<polygon points="381.7,623.97 379.61,620.18 383.79,620.18" fill="#6a3d9a"/>
<polygon points="395.1,625.17 393.01,621.38 397.19,621.38" fill="#6a3d9a"/>
<polygon points="408.5,625.17 406.41,621.38 410.59,621.38" fill="#6a3d9a"/>
<polygon points="421.9,625.17 419.81,621.38 423.99,621.38" fill="#6a3d9a"/>
<polyline points="287.9,635.4 301.3,617.4 314.7,612.6 328.1,611 341.5,611 354.9,605.2 368.3,616.2 381.7,618.6 395.1,622.6 408.5,626.4 421.9,632.6" fill="none" stroke="#45ad4e" stroke-width="1" stroke-linejoin="round"/>
<line x1="314.7" y1="609" x2="314.7" y2="616.2" stroke="#45ad4e" stroke-width="0.9"/>
<line x1="312.5" y1="609" x2="316.9" y2="609" stroke="#45ad4e" stroke-width="0.9"/>
<line x1="312.5" y1="616.2" x2="316.9" y2="616.2" stroke="#45ad4e" stroke-width="0.9"/>
<line x1="328.1" y1="607.4" x2="328.1" y2="614.6" stroke="#45ad4e" stroke-width="0.9"/>
<line x1="325.9" y1="607.4" x2="330.3" y2="607.4" stroke="#45ad4e" stroke-width="0.9"/>
<line x1="325.9" y1="614.6" x2="330.3" y2="614.6" stroke="#45ad4e" stroke-width="0.9"/>
<line x1="341.5" y1="607.4" x2="341.5" y2="614.6" stroke="#45ad4e" stroke-width="0.9"/>
<line x1="339.3" y1="607.4" x2="343.7" y2="607.4" stroke="#45ad4e" stroke-width="0.9"/>
<line x1="339.3" y1="614.6" x2="343.7" y2="614.6" stroke="#45ad4e" stroke-width="0.9"/>
<line x1="354.9" y1="601.6" x2="354.9" y2="608.8" stroke="#45ad4e" stroke-width="0.9"/>
<line x1="352.7" y1="601.6" x2="357.1" y2="601.6" stroke="#45ad4e" stroke-width="0.9"/>
<line x1="352.7" y1="608.8" x2="357.1" y2="608.8" stroke="#45ad4e" stroke-width="0.9"/>
<line x1="368.3" y1="612.6" x2="368.3" y2="619.8" stroke="#45ad4e" stroke-width="0.9"/>
<line x1="366.1" y1="612.6" x2="370.5" y2="612.6" stroke="#45ad4e" stroke-width="0.9"/>
<line x1="366.1" y1="619.8" x2="370.5" y2="619.8" stroke="#45ad4e" stroke-width="0.9"/>
<line x1="381.7" y1="615" x2="381.7" y2="622.2" stroke="#45ad4e" stroke-width="0.9"/>
<line x1="379.5" y1="615" x2="383.9" y2="615" stroke="#45ad4e" stroke-width="0.9"/>
<line x1="379.5" y1="622.2" x2="383.9" y2="622.2" stroke="#45ad4e" stroke-width="0.9"/>
<line x1="395.1" y1="619" x2="395.1" y2="626.2" stroke="#45ad4e" stroke-width="0.9"/>
<line x1="392.9" y1="619" x2="397.3" y2="619" stroke="#45ad4e" stroke-width="0.9"/>
<line x1="392.9" y1="626.2" x2="397.3" y2="626.2" stroke="#45ad4e" stroke-width="0.9"/>
<line x1="408.5" y1="622.8" x2="408.5" y2="630" stroke="#45ad4e" stroke-width="0.9"/>
<line x1="406.3" y1="622.8" x2="410.7" y2="622.8" stroke="#45ad4e" stroke-width="0.9"/>
<line x1="406.3" y1="630" x2="410.7" y2="630" stroke="#45ad4e" stroke-width="0.9"/>
<line x1="421.9" y1="629" x2="421.9" y2="636.2" stroke="#45ad4e" stroke-width="0.9"/>
<line x1="419.7" y1="629" x2="424.1" y2="629" stroke="#45ad4e" stroke-width="0.9"/>
<line x1="419.7" y1="636.2" x2="424.1" y2="636.2" stroke="#45ad4e" stroke-width="0.9"/>
<polygon points="287.9,633.23 285.81,637.02 289.99,637.02" fill="#45ad4e"/>
<polygon points="301.3,615.23 299.21,619.02 303.39,619.02" fill="#45ad4e"/>
<polygon points="314.7,610.43 312.61,614.22 316.79,614.22" fill="#45ad4e"/>
<polygon points="328.1,608.83 326.01,612.62 330.19,612.62" fill="#45ad4e"/>
<polygon points="341.5,608.83 339.41,612.62 343.59,612.62" fill="#45ad4e"/>
<polygon points="354.9,603.03 352.81,606.82 356.99,606.82" fill="#45ad4e"/>
<polygon points="368.3,614.03 366.21,617.82 370.39,617.82" fill="#45ad4e"/>
<polygon points="381.7,616.43 379.61,620.22 383.79,620.22" fill="#45ad4e"/>
<polygon points="395.1,620.43 393.01,624.22 397.19,624.22" fill="#45ad4e"/>
<polygon points="408.5,624.23 406.41,628.02 410.59,628.02" fill="#45ad4e"/>
<polygon points="421.9,630.43 419.81,634.22 423.99,634.22" fill="#45ad4e"/>
<polyline points="287.9,635.4 301.3,625 314.7,621.4 328.1,621.4 341.5,619.4 354.9,614.2 368.3,622.6 381.7,623 395.1,622.6 408.5,619 421.9,622.6" fill="none" stroke="#e0232f" stroke-width="1" stroke-linejoin="round"/>
<line x1="314.7" y1="616.2" x2="314.7" y2="626.6" stroke="#e0232f" stroke-width="0.9"/>
<line x1="312.5" y1="616.2" x2="316.9" y2="616.2" stroke="#e0232f" stroke-width="0.9"/>
<line x1="312.5" y1="626.6" x2="316.9" y2="626.6" stroke="#e0232f" stroke-width="0.9"/>
<line x1="328.1" y1="616.2" x2="328.1" y2="626.6" stroke="#e0232f" stroke-width="0.9"/>
<line x1="325.9" y1="616.2" x2="330.3" y2="616.2" stroke="#e0232f" stroke-width="0.9"/>
<line x1="325.9" y1="626.6" x2="330.3" y2="626.6" stroke="#e0232f" stroke-width="0.9"/>
<line x1="341.5" y1="614.2" x2="341.5" y2="624.6" stroke="#e0232f" stroke-width="0.9"/>
<line x1="339.3" y1="614.2" x2="343.7" y2="614.2" stroke="#e0232f" stroke-width="0.9"/>
<line x1="339.3" y1="624.6" x2="343.7" y2="624.6" stroke="#e0232f" stroke-width="0.9"/>
<line x1="354.9" y1="609" x2="354.9" y2="619.4" stroke="#e0232f" stroke-width="0.9"/>
<line x1="352.7" y1="609" x2="357.1" y2="609" stroke="#e0232f" stroke-width="0.9"/>
<line x1="352.7" y1="619.4" x2="357.1" y2="619.4" stroke="#e0232f" stroke-width="0.9"/>
<line x1="368.3" y1="617.4" x2="368.3" y2="627.8" stroke="#e0232f" stroke-width="0.9"/>
<line x1="366.1" y1="617.4" x2="370.5" y2="617.4" stroke="#e0232f" stroke-width="0.9"/>
<line x1="366.1" y1="627.8" x2="370.5" y2="627.8" stroke="#e0232f" stroke-width="0.9"/>
<line x1="381.7" y1="617.8" x2="381.7" y2="628.2" stroke="#e0232f" stroke-width="0.9"/>
<line x1="379.5" y1="617.8" x2="383.9" y2="617.8" stroke="#e0232f" stroke-width="0.9"/>
<line x1="379.5" y1="628.2" x2="383.9" y2="628.2" stroke="#e0232f" stroke-width="0.9"/>
<line x1="395.1" y1="617.4" x2="395.1" y2="627.8" stroke="#e0232f" stroke-width="0.9"/>
<line x1="392.9" y1="617.4" x2="397.3" y2="617.4" stroke="#e0232f" stroke-width="0.9"/>
<line x1="392.9" y1="627.8" x2="397.3" y2="627.8" stroke="#e0232f" stroke-width="0.9"/>
<line x1="408.5" y1="611" x2="408.5" y2="627" stroke="#e0232f" stroke-width="0.9"/>
<line x1="406.3" y1="611" x2="410.7" y2="611" stroke="#e0232f" stroke-width="0.9"/>
<line x1="406.3" y1="627" x2="410.7" y2="627" stroke="#e0232f" stroke-width="0.9"/>
<line x1="421.9" y1="614.6" x2="421.9" y2="630.6" stroke="#e0232f" stroke-width="0.9"/>
<line x1="419.7" y1="614.6" x2="424.1" y2="614.6" stroke="#e0232f" stroke-width="0.9"/>
<line x1="419.7" y1="630.6" x2="424.1" y2="630.6" stroke="#e0232f" stroke-width="0.9"/>
<rect x="285.8" y="633.3" width="4.2" height="4.2" fill="#e0232f"/>
<rect x="299.2" y="622.9" width="4.2" height="4.2" fill="#e0232f"/>
<rect x="312.6" y="619.3" width="4.2" height="4.2" fill="#e0232f"/>
<rect x="326" y="619.3" width="4.2" height="4.2" fill="#e0232f"/>
<rect x="339.4" y="617.3" width="4.2" height="4.2" fill="#e0232f"/>
<rect x="352.8" y="612.1" width="4.2" height="4.2" fill="#e0232f"/>
<rect x="366.2" y="620.5" width="4.2" height="4.2" fill="#e0232f"/>
<rect x="379.6" y="620.9" width="4.2" height="4.2" fill="#e0232f"/>
<rect x="393" y="620.5" width="4.2" height="4.2" fill="#e0232f"/>
<rect x="406.4" y="616.9" width="4.2" height="4.2" fill="#e0232f"/>
<rect x="419.8" y="620.5" width="4.2" height="4.2" fill="#e0232f"/>
<polyline points="287.9,635.4 301.3,623 314.7,617.4 328.1,611.4 341.5,606 354.9,597.4 368.3,599.4 381.7,597.4 395.1,589.4 408.5,587.4 421.9,584" fill="none" stroke="#1c4790" stroke-width="1" stroke-linejoin="round"/>
<line x1="381.7" y1="594.2" x2="381.7" y2="600.6" stroke="#1c4790" stroke-width="0.9"/>
<line x1="379.5" y1="594.2" x2="383.9" y2="594.2" stroke="#1c4790" stroke-width="0.9"/>
<line x1="379.5" y1="600.6" x2="383.9" y2="600.6" stroke="#1c4790" stroke-width="0.9"/>
<line x1="395.1" y1="586.2" x2="395.1" y2="592.6" stroke="#1c4790" stroke-width="0.9"/>
<line x1="392.9" y1="586.2" x2="397.3" y2="586.2" stroke="#1c4790" stroke-width="0.9"/>
<line x1="392.9" y1="592.6" x2="397.3" y2="592.6" stroke="#1c4790" stroke-width="0.9"/>
<line x1="408.5" y1="584.2" x2="408.5" y2="590.6" stroke="#1c4790" stroke-width="0.9"/>
<line x1="406.3" y1="584.2" x2="410.7" y2="584.2" stroke="#1c4790" stroke-width="0.9"/>
<line x1="406.3" y1="590.6" x2="410.7" y2="590.6" stroke="#1c4790" stroke-width="0.9"/>
<line x1="421.9" y1="580.8" x2="421.9" y2="587.2" stroke="#1c4790" stroke-width="0.9"/>
<line x1="419.7" y1="580.8" x2="424.1" y2="580.8" stroke="#1c4790" stroke-width="0.9"/>
<line x1="419.7" y1="587.2" x2="424.1" y2="587.2" stroke="#1c4790" stroke-width="0.9"/>
<circle cx="287.9" cy="635.4" r="2.1" fill="#1c4790"/>
<circle cx="301.3" cy="623" r="2.1" fill="#1c4790"/>
<circle cx="314.7" cy="617.4" r="2.1" fill="#1c4790"/>
<circle cx="328.1" cy="611.4" r="2.1" fill="#1c4790"/>
<circle cx="341.5" cy="606" r="2.1" fill="#1c4790"/>
<circle cx="354.9" cy="597.4" r="2.1" fill="#1c4790"/>
<circle cx="368.3" cy="599.4" r="2.1" fill="#1c4790"/>
<circle cx="381.7" cy="597.4" r="2.1" fill="#1c4790"/>
<circle cx="395.1" cy="589.4" r="2.1" fill="#1c4790"/>
<circle cx="408.5" cy="587.4" r="2.1" fill="#1c4790"/>
<circle cx="421.9" cy="584" r="2.1" fill="#1c4790"/>
</svg>
</body></html>
